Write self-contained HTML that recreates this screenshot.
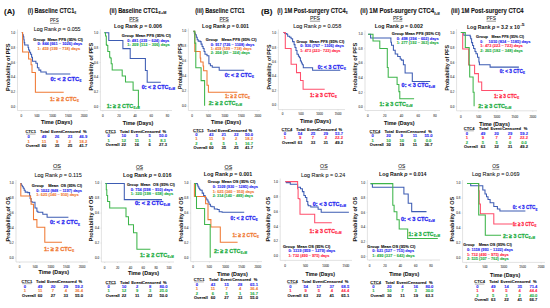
<!DOCTYPE html><html><head><meta charset="utf-8"><style>html,body{margin:0;padding:0;background:#fff;width:550px;height:308px;overflow:hidden}svg{display:block}text{font-family:"Liberation Sans",sans-serif}</style></head><body>
<svg width="550" height="308" viewBox="0 0 550 308">
<rect width="550" height="308" fill="#fff"/>
<text x="4.10" y="13.50" font-size="7.5" fill="#141414" font-weight="bold" stroke="#141414" stroke-width="0.1" textLength="10.90" lengthAdjust="spacingAndGlyphs">(A)</text>
<text x="261.10" y="13.80" font-size="7.5" fill="#141414" font-weight="bold" stroke="#141414" stroke-width="0.1" textLength="11.30" lengthAdjust="spacingAndGlyphs">(B)</text>
<text x="27.70" y="12.90" font-size="6.3" fill="#141414" font-weight="bold" stroke="#141414" stroke-width="0.1" textLength="46.60" lengthAdjust="spacingAndGlyphs">(i) Baseline CTC1</text>
<text x="74.50" y="14.16" font-size="3.15" fill="#141414" font-weight="bold" stroke="#141414" stroke-width="0.05" textLength="1.80" lengthAdjust="spacingAndGlyphs">E</text>
<text x="109.60" y="13.20" font-size="6.3" fill="#141414" font-weight="bold" stroke="#141414" stroke-width="0.1" textLength="48.70" lengthAdjust="spacingAndGlyphs">(ii) Baseline CTC1</text>
<text x="158.50" y="14.46" font-size="3.15" fill="#141414" font-weight="bold" stroke="#141414" stroke-width="0.05" textLength="7.80" lengthAdjust="spacingAndGlyphs">E+M</text>
<text x="195.20" y="13.20" font-size="6.3" fill="#141414" font-weight="bold" stroke="#141414" stroke-width="0.1" textLength="49.40" lengthAdjust="spacingAndGlyphs">(iii) Baseline CTC1</text>
<text x="277.20" y="13.00" font-size="6.3" fill="#141414" font-weight="bold" stroke="#141414" stroke-width="0.1" textLength="68.50" lengthAdjust="spacingAndGlyphs">(i) 1M Post-surgery CTC4</text>
<text x="345.90" y="14.26" font-size="3.15" fill="#141414" font-weight="bold" stroke="#141414" stroke-width="0.05" textLength="1.80" lengthAdjust="spacingAndGlyphs">E</text>
<text x="360.30" y="13.40" font-size="6.3" fill="#141414" font-weight="bold" stroke="#141414" stroke-width="0.1" textLength="73.80" lengthAdjust="spacingAndGlyphs">(ii) 1M Post-surgery CTC4</text>
<text x="434.30" y="14.66" font-size="3.15" fill="#141414" font-weight="bold" stroke="#141414" stroke-width="0.05" textLength="5.40" lengthAdjust="spacingAndGlyphs">E+M</text>
<text x="450.90" y="13.00" font-size="6.3" fill="#141414" font-weight="bold" stroke="#141414" stroke-width="0.1" textLength="72.70" lengthAdjust="spacingAndGlyphs">(iii) 1M Post-surgery CTC4</text>
<text x="50.00" y="22.40" font-size="6.0" fill="#141414" font-weight="normal" stroke="#141414" stroke-width="0.07" textLength="8.80" lengthAdjust="spacingAndGlyphs">PFS</text>
<line x1="50.00" y1="23.30" x2="58.80" y2="23.30" stroke="#141414" stroke-width="0.45"/>
<text x="129.30" y="20.80" font-size="6.0" fill="#141414" font-weight="normal" stroke="#141414" stroke-width="0.07" textLength="9.20" lengthAdjust="spacingAndGlyphs">PFS</text>
<line x1="129.30" y1="21.70" x2="138.50" y2="21.70" stroke="#141414" stroke-width="0.45"/>
<text x="219.50" y="20.80" font-size="6.0" fill="#141414" font-weight="normal" stroke="#141414" stroke-width="0.07" textLength="9.30" lengthAdjust="spacingAndGlyphs">PFS</text>
<line x1="219.50" y1="21.70" x2="228.80" y2="21.70" stroke="#141414" stroke-width="0.45"/>
<text x="309.90" y="20.30" font-size="6.0" fill="#141414" font-weight="normal" stroke="#141414" stroke-width="0.07" textLength="10.20" lengthAdjust="spacingAndGlyphs">PFS</text>
<line x1="309.90" y1="21.20" x2="320.10" y2="21.20" stroke="#141414" stroke-width="0.45"/>
<text x="393.10" y="20.30" font-size="6.0" fill="#141414" font-weight="normal" stroke="#141414" stroke-width="0.07" textLength="9.20" lengthAdjust="spacingAndGlyphs">PFS</text>
<line x1="393.10" y1="21.20" x2="402.30" y2="21.20" stroke="#141414" stroke-width="0.45"/>
<text x="486.50" y="20.30" font-size="6.0" fill="#141414" font-weight="normal" stroke="#141414" stroke-width="0.07" textLength="9.50" lengthAdjust="spacingAndGlyphs">PFS</text>
<line x1="486.50" y1="21.20" x2="496.00" y2="21.20" stroke="#141414" stroke-width="0.45"/>
<text x="33.70" y="31.20" font-size="6.0" fill="#141414" font-weight="normal" stroke="#141414" stroke-width="0.08" textLength="46.90" lengthAdjust="spacingAndGlyphs">Log Rank <tspan font-style="italic">p</tspan> = 0.055</text>
<text x="114.00" y="28.40" font-size="6.0" fill="#141414" font-weight="bold" textLength="48.00" lengthAdjust="spacingAndGlyphs">Log Rank <tspan font-style="italic">p</tspan> = 0.006</text>
<text x="202.10" y="28.40" font-size="6.0" fill="#141414" font-weight="bold" textLength="46.90" lengthAdjust="spacingAndGlyphs">Log Rank <tspan font-style="italic">p</tspan> = 0.001</text>
<text x="293.20" y="28.30" font-size="6.0" fill="#141414" font-weight="normal" stroke="#141414" stroke-width="0.08" textLength="48.00" lengthAdjust="spacingAndGlyphs">Log Rank <tspan font-style="italic">p</tspan> = 0.058</text>
<text x="374.80" y="27.60" font-size="6.0" fill="#141414" font-weight="bold" textLength="48.10" lengthAdjust="spacingAndGlyphs">Log Rank <tspan font-style="italic">p</tspan> = 0.002</text>
<text x="466.90" y="29.00" font-size="6.0" fill="#141414" font-weight="bold" textLength="52.90" lengthAdjust="spacingAndGlyphs">Log Rank <tspan font-style="italic">p</tspan> = 3.2 x 10</text>
<text x="520.20" y="26.20" font-size="3.4" fill="#141414" font-weight="bold" textLength="4.40" lengthAdjust="spacingAndGlyphs">-5</text>
<line x1="17.5" y1="29.5" x2="17.5" y2="110.5" stroke="#cfcfcf" stroke-width="0.6"/>
<line x1="17.5" y1="110.5" x2="88" y2="110.5" stroke="#cfcfcf" stroke-width="0.6"/>
<line x1="16.5" y1="32.80" x2="17.5" y2="32.80" stroke="#cfcfcf" stroke-width="0.5"/>
<text x="15.20" y="33.90" font-size="3.0" fill="#4a4a4a" font-weight="normal" stroke="#4a4a4a" stroke-width="0.08" text-anchor="end">1.0</text>
<line x1="16.5" y1="47.60" x2="17.5" y2="47.60" stroke="#cfcfcf" stroke-width="0.5"/>
<text x="15.20" y="48.70" font-size="3.0" fill="#4a4a4a" font-weight="normal" stroke="#4a4a4a" stroke-width="0.08" text-anchor="end">0.8</text>
<line x1="16.5" y1="62.40" x2="17.5" y2="62.40" stroke="#cfcfcf" stroke-width="0.5"/>
<text x="15.20" y="63.50" font-size="3.0" fill="#4a4a4a" font-weight="normal" stroke="#4a4a4a" stroke-width="0.08" text-anchor="end">0.6</text>
<line x1="16.5" y1="77.20" x2="17.5" y2="77.20" stroke="#cfcfcf" stroke-width="0.5"/>
<text x="15.20" y="78.30" font-size="3.0" fill="#4a4a4a" font-weight="normal" stroke="#4a4a4a" stroke-width="0.08" text-anchor="end">0.4</text>
<line x1="16.5" y1="92.00" x2="17.5" y2="92.00" stroke="#cfcfcf" stroke-width="0.5"/>
<text x="15.20" y="93.10" font-size="3.0" fill="#4a4a4a" font-weight="normal" stroke="#4a4a4a" stroke-width="0.08" text-anchor="end">0.2</text>
<line x1="16.5" y1="106.80" x2="17.5" y2="106.80" stroke="#cfcfcf" stroke-width="0.5"/>
<text x="15.20" y="107.90" font-size="3.0" fill="#4a4a4a" font-weight="normal" stroke="#4a4a4a" stroke-width="0.08" text-anchor="end">0.0</text>
<line x1="21.40" y1="110.5" x2="21.40" y2="111.5" stroke="#cfcfcf" stroke-width="0.5"/>
<text x="21.40" y="116.60" font-size="3.0" fill="#4a4a4a" font-weight="normal" stroke="#4a4a4a" stroke-width="0.08" text-anchor="middle">0</text>
<line x1="37.05" y1="110.5" x2="37.05" y2="111.5" stroke="#cfcfcf" stroke-width="0.5"/>
<text x="37.05" y="116.60" font-size="3.0" fill="#4a4a4a" font-weight="normal" stroke="#4a4a4a" stroke-width="0.08" text-anchor="middle">500</text>
<line x1="52.70" y1="110.5" x2="52.70" y2="111.5" stroke="#cfcfcf" stroke-width="0.5"/>
<text x="52.70" y="116.60" font-size="3.0" fill="#4a4a4a" font-weight="normal" stroke="#4a4a4a" stroke-width="0.08" text-anchor="middle">1000</text>
<line x1="68.35" y1="110.5" x2="68.35" y2="111.5" stroke="#cfcfcf" stroke-width="0.5"/>
<text x="68.35" y="116.60" font-size="3.0" fill="#4a4a4a" font-weight="normal" stroke="#4a4a4a" stroke-width="0.08" text-anchor="middle">1500</text>
<line x1="84.00" y1="110.5" x2="84.00" y2="111.5" stroke="#cfcfcf" stroke-width="0.5"/>
<text x="84.00" y="116.60" font-size="3.0" fill="#4a4a4a" font-weight="normal" stroke="#4a4a4a" stroke-width="0.08" text-anchor="middle">2000</text>
<text x="0" y="0" transform="translate(9.90,67.25) rotate(-90)" font-size="5.6" font-weight="bold" fill="#141414" text-anchor="middle" textLength="47.50" lengthAdjust="spacingAndGlyphs">Probability of PFS</text>
<line x1="100.4" y1="29.5" x2="100.4" y2="110.5" stroke="#cfcfcf" stroke-width="0.6"/>
<line x1="100.4" y1="110.5" x2="172" y2="110.5" stroke="#cfcfcf" stroke-width="0.6"/>
<line x1="99.4" y1="33.20" x2="100.4" y2="33.20" stroke="#cfcfcf" stroke-width="0.5"/>
<text x="98.10" y="34.30" font-size="3.0" fill="#4a4a4a" font-weight="normal" stroke="#4a4a4a" stroke-width="0.08" text-anchor="end">1.0</text>
<line x1="99.4" y1="47.86" x2="100.4" y2="47.86" stroke="#cfcfcf" stroke-width="0.5"/>
<text x="98.10" y="48.96" font-size="3.0" fill="#4a4a4a" font-weight="normal" stroke="#4a4a4a" stroke-width="0.08" text-anchor="end">0.8</text>
<line x1="99.4" y1="62.52" x2="100.4" y2="62.52" stroke="#cfcfcf" stroke-width="0.5"/>
<text x="98.10" y="63.62" font-size="3.0" fill="#4a4a4a" font-weight="normal" stroke="#4a4a4a" stroke-width="0.08" text-anchor="end">0.6</text>
<line x1="99.4" y1="77.18" x2="100.4" y2="77.18" stroke="#cfcfcf" stroke-width="0.5"/>
<text x="98.10" y="78.28" font-size="3.0" fill="#4a4a4a" font-weight="normal" stroke="#4a4a4a" stroke-width="0.08" text-anchor="end">0.4</text>
<line x1="99.4" y1="91.84" x2="100.4" y2="91.84" stroke="#cfcfcf" stroke-width="0.5"/>
<text x="98.10" y="92.94" font-size="3.0" fill="#4a4a4a" font-weight="normal" stroke="#4a4a4a" stroke-width="0.08" text-anchor="end">0.2</text>
<line x1="99.4" y1="106.50" x2="100.4" y2="106.50" stroke="#cfcfcf" stroke-width="0.5"/>
<text x="98.10" y="107.60" font-size="3.0" fill="#4a4a4a" font-weight="normal" stroke="#4a4a4a" stroke-width="0.08" text-anchor="end">0.0</text>
<line x1="102.80" y1="110.5" x2="102.80" y2="111.5" stroke="#cfcfcf" stroke-width="0.5"/>
<text x="102.80" y="116.60" font-size="3.0" fill="#4a4a4a" font-weight="normal" stroke="#4a4a4a" stroke-width="0.08" text-anchor="middle">0</text>
<line x1="118.95" y1="110.5" x2="118.95" y2="111.5" stroke="#cfcfcf" stroke-width="0.5"/>
<text x="118.95" y="116.60" font-size="3.0" fill="#4a4a4a" font-weight="normal" stroke="#4a4a4a" stroke-width="0.08" text-anchor="middle">20</text>
<line x1="135.10" y1="110.5" x2="135.10" y2="111.5" stroke="#cfcfcf" stroke-width="0.5"/>
<text x="135.10" y="116.60" font-size="3.0" fill="#4a4a4a" font-weight="normal" stroke="#4a4a4a" stroke-width="0.08" text-anchor="middle">40</text>
<line x1="151.25" y1="110.5" x2="151.25" y2="111.5" stroke="#cfcfcf" stroke-width="0.5"/>
<text x="151.25" y="116.60" font-size="3.0" fill="#4a4a4a" font-weight="normal" stroke="#4a4a4a" stroke-width="0.08" text-anchor="middle">60</text>
<line x1="167.40" y1="110.5" x2="167.40" y2="111.5" stroke="#cfcfcf" stroke-width="0.5"/>
<text x="167.40" y="116.60" font-size="3.0" fill="#4a4a4a" font-weight="normal" stroke="#4a4a4a" stroke-width="0.08" text-anchor="middle">80</text>
<text x="0" y="0" transform="translate(92.80,66.70) rotate(-90)" font-size="5.6" font-weight="bold" fill="#141414" text-anchor="middle" textLength="47.80" lengthAdjust="spacingAndGlyphs">Probability of PFS</text>
<line x1="188.4" y1="28.5" x2="188.4" y2="110.5" stroke="#cfcfcf" stroke-width="0.6"/>
<line x1="188.4" y1="110.5" x2="260" y2="110.5" stroke="#cfcfcf" stroke-width="0.6"/>
<line x1="187.4" y1="30.80" x2="188.4" y2="30.80" stroke="#cfcfcf" stroke-width="0.5"/>
<text x="186.10" y="31.90" font-size="3.0" fill="#4a4a4a" font-weight="normal" stroke="#4a4a4a" stroke-width="0.08" text-anchor="end">1.0</text>
<line x1="187.4" y1="45.88" x2="188.4" y2="45.88" stroke="#cfcfcf" stroke-width="0.5"/>
<text x="186.10" y="46.98" font-size="3.0" fill="#4a4a4a" font-weight="normal" stroke="#4a4a4a" stroke-width="0.08" text-anchor="end">0.8</text>
<line x1="187.4" y1="60.96" x2="188.4" y2="60.96" stroke="#cfcfcf" stroke-width="0.5"/>
<text x="186.10" y="62.06" font-size="3.0" fill="#4a4a4a" font-weight="normal" stroke="#4a4a4a" stroke-width="0.08" text-anchor="end">0.6</text>
<line x1="187.4" y1="76.04" x2="188.4" y2="76.04" stroke="#cfcfcf" stroke-width="0.5"/>
<text x="186.10" y="77.14" font-size="3.0" fill="#4a4a4a" font-weight="normal" stroke="#4a4a4a" stroke-width="0.08" text-anchor="end">0.4</text>
<line x1="187.4" y1="91.12" x2="188.4" y2="91.12" stroke="#cfcfcf" stroke-width="0.5"/>
<text x="186.10" y="92.22" font-size="3.0" fill="#4a4a4a" font-weight="normal" stroke="#4a4a4a" stroke-width="0.08" text-anchor="end">0.2</text>
<line x1="187.4" y1="106.20" x2="188.4" y2="106.20" stroke="#cfcfcf" stroke-width="0.5"/>
<text x="186.10" y="107.30" font-size="3.0" fill="#4a4a4a" font-weight="normal" stroke="#4a4a4a" stroke-width="0.08" text-anchor="end">0.0</text>
<line x1="192.00" y1="110.5" x2="192.00" y2="111.5" stroke="#cfcfcf" stroke-width="0.5"/>
<text x="192.00" y="116.60" font-size="3.0" fill="#4a4a4a" font-weight="normal" stroke="#4a4a4a" stroke-width="0.08" text-anchor="middle">0</text>
<line x1="208.45" y1="110.5" x2="208.45" y2="111.5" stroke="#cfcfcf" stroke-width="0.5"/>
<text x="208.45" y="116.60" font-size="3.0" fill="#4a4a4a" font-weight="normal" stroke="#4a4a4a" stroke-width="0.08" text-anchor="middle">500</text>
<line x1="224.90" y1="110.5" x2="224.90" y2="111.5" stroke="#cfcfcf" stroke-width="0.5"/>
<text x="224.90" y="116.60" font-size="3.0" fill="#4a4a4a" font-weight="normal" stroke="#4a4a4a" stroke-width="0.08" text-anchor="middle">1000</text>
<line x1="241.35" y1="110.5" x2="241.35" y2="111.5" stroke="#cfcfcf" stroke-width="0.5"/>
<text x="241.35" y="116.60" font-size="3.0" fill="#4a4a4a" font-weight="normal" stroke="#4a4a4a" stroke-width="0.08" text-anchor="middle">1500</text>
<line x1="257.80" y1="110.5" x2="257.80" y2="111.5" stroke="#cfcfcf" stroke-width="0.5"/>
<text x="257.80" y="116.60" font-size="3.0" fill="#4a4a4a" font-weight="normal" stroke="#4a4a4a" stroke-width="0.08" text-anchor="middle">2000</text>
<text x="0" y="0" transform="translate(181.90,66.15) rotate(-90)" font-size="5.6" font-weight="bold" fill="#141414" text-anchor="middle" textLength="45.50" lengthAdjust="spacingAndGlyphs">Probability of PFS</text>
<line x1="278.4" y1="29.5" x2="278.4" y2="109.6" stroke="#cfcfcf" stroke-width="0.6"/>
<line x1="278.4" y1="109.6" x2="345" y2="109.6" stroke="#cfcfcf" stroke-width="0.6"/>
<line x1="277.4" y1="33.20" x2="278.4" y2="33.20" stroke="#cfcfcf" stroke-width="0.5"/>
<text x="276.10" y="34.30" font-size="3.0" fill="#4a4a4a" font-weight="normal" stroke="#4a4a4a" stroke-width="0.08" text-anchor="end">1.0</text>
<line x1="277.4" y1="47.58" x2="278.4" y2="47.58" stroke="#cfcfcf" stroke-width="0.5"/>
<text x="276.10" y="48.68" font-size="3.0" fill="#4a4a4a" font-weight="normal" stroke="#4a4a4a" stroke-width="0.08" text-anchor="end">0.8</text>
<line x1="277.4" y1="61.96" x2="278.4" y2="61.96" stroke="#cfcfcf" stroke-width="0.5"/>
<text x="276.10" y="63.06" font-size="3.0" fill="#4a4a4a" font-weight="normal" stroke="#4a4a4a" stroke-width="0.08" text-anchor="end">0.6</text>
<line x1="277.4" y1="76.34" x2="278.4" y2="76.34" stroke="#cfcfcf" stroke-width="0.5"/>
<text x="276.10" y="77.44" font-size="3.0" fill="#4a4a4a" font-weight="normal" stroke="#4a4a4a" stroke-width="0.08" text-anchor="end">0.4</text>
<line x1="277.4" y1="90.72" x2="278.4" y2="90.72" stroke="#cfcfcf" stroke-width="0.5"/>
<text x="276.10" y="91.82" font-size="3.0" fill="#4a4a4a" font-weight="normal" stroke="#4a4a4a" stroke-width="0.08" text-anchor="end">0.2</text>
<line x1="277.4" y1="105.10" x2="278.4" y2="105.10" stroke="#cfcfcf" stroke-width="0.5"/>
<text x="276.10" y="106.20" font-size="3.0" fill="#4a4a4a" font-weight="normal" stroke="#4a4a4a" stroke-width="0.08" text-anchor="end">0.0</text>
<line x1="282.60" y1="109.6" x2="282.60" y2="110.6" stroke="#cfcfcf" stroke-width="0.5"/>
<text x="282.60" y="115.40" font-size="3.0" fill="#4a4a4a" font-weight="normal" stroke="#4a4a4a" stroke-width="0.08" text-anchor="middle">0</text>
<line x1="301.07" y1="109.6" x2="301.07" y2="110.6" stroke="#cfcfcf" stroke-width="0.5"/>
<text x="301.07" y="115.40" font-size="3.0" fill="#4a4a4a" font-weight="normal" stroke="#4a4a4a" stroke-width="0.08" text-anchor="middle">500</text>
<line x1="319.53" y1="109.6" x2="319.53" y2="110.6" stroke="#cfcfcf" stroke-width="0.5"/>
<text x="319.53" y="115.40" font-size="3.0" fill="#4a4a4a" font-weight="normal" stroke="#4a4a4a" stroke-width="0.08" text-anchor="middle">1000</text>
<line x1="338.00" y1="109.6" x2="338.00" y2="110.6" stroke="#cfcfcf" stroke-width="0.5"/>
<text x="338.00" y="115.40" font-size="3.0" fill="#4a4a4a" font-weight="normal" stroke="#4a4a4a" stroke-width="0.08" text-anchor="middle">1500</text>
<text x="0" y="0" transform="translate(271.00,67.00) rotate(-90)" font-size="5.6" font-weight="bold" fill="#141414" text-anchor="middle" textLength="45.00" lengthAdjust="spacingAndGlyphs">Probability of PFS</text>
<line x1="365" y1="30.5" x2="365" y2="110.5" stroke="#cfcfcf" stroke-width="0.6"/>
<line x1="365" y1="110.5" x2="440" y2="110.5" stroke="#cfcfcf" stroke-width="0.6"/>
<line x1="364" y1="34.20" x2="365" y2="34.20" stroke="#cfcfcf" stroke-width="0.5"/>
<text x="362.70" y="35.30" font-size="3.0" fill="#4a4a4a" font-weight="normal" stroke="#4a4a4a" stroke-width="0.08" text-anchor="end">1.0</text>
<line x1="364" y1="48.76" x2="365" y2="48.76" stroke="#cfcfcf" stroke-width="0.5"/>
<text x="362.70" y="49.86" font-size="3.0" fill="#4a4a4a" font-weight="normal" stroke="#4a4a4a" stroke-width="0.08" text-anchor="end">0.8</text>
<line x1="364" y1="63.32" x2="365" y2="63.32" stroke="#cfcfcf" stroke-width="0.5"/>
<text x="362.70" y="64.42" font-size="3.0" fill="#4a4a4a" font-weight="normal" stroke="#4a4a4a" stroke-width="0.08" text-anchor="end">0.6</text>
<line x1="364" y1="77.88" x2="365" y2="77.88" stroke="#cfcfcf" stroke-width="0.5"/>
<text x="362.70" y="78.98" font-size="3.0" fill="#4a4a4a" font-weight="normal" stroke="#4a4a4a" stroke-width="0.08" text-anchor="end">0.4</text>
<line x1="364" y1="92.44" x2="365" y2="92.44" stroke="#cfcfcf" stroke-width="0.5"/>
<text x="362.70" y="93.54" font-size="3.0" fill="#4a4a4a" font-weight="normal" stroke="#4a4a4a" stroke-width="0.08" text-anchor="end">0.2</text>
<line x1="364" y1="107.00" x2="365" y2="107.00" stroke="#cfcfcf" stroke-width="0.5"/>
<text x="362.70" y="108.10" font-size="3.0" fill="#4a4a4a" font-weight="normal" stroke="#4a4a4a" stroke-width="0.08" text-anchor="end">0.0</text>
<line x1="367.90" y1="110.5" x2="367.90" y2="111.5" stroke="#cfcfcf" stroke-width="0.5"/>
<text x="367.90" y="117.20" font-size="3.0" fill="#4a4a4a" font-weight="normal" stroke="#4a4a4a" stroke-width="0.08" text-anchor="middle">0</text>
<line x1="384.67" y1="110.5" x2="384.67" y2="111.5" stroke="#cfcfcf" stroke-width="0.5"/>
<text x="384.67" y="117.20" font-size="3.0" fill="#4a4a4a" font-weight="normal" stroke="#4a4a4a" stroke-width="0.08" text-anchor="middle">20</text>
<line x1="401.45" y1="110.5" x2="401.45" y2="111.5" stroke="#cfcfcf" stroke-width="0.5"/>
<text x="401.45" y="117.20" font-size="3.0" fill="#4a4a4a" font-weight="normal" stroke="#4a4a4a" stroke-width="0.08" text-anchor="middle">40</text>
<line x1="418.23" y1="110.5" x2="418.23" y2="111.5" stroke="#cfcfcf" stroke-width="0.5"/>
<text x="418.23" y="117.20" font-size="3.0" fill="#4a4a4a" font-weight="normal" stroke="#4a4a4a" stroke-width="0.08" text-anchor="middle">60</text>
<line x1="435.00" y1="110.5" x2="435.00" y2="111.5" stroke="#cfcfcf" stroke-width="0.5"/>
<text x="435.00" y="117.20" font-size="3.0" fill="#4a4a4a" font-weight="normal" stroke="#4a4a4a" stroke-width="0.08" text-anchor="middle">80</text>
<text x="0" y="0" transform="translate(356.70,67.15) rotate(-90)" font-size="5.6" font-weight="bold" fill="#141414" text-anchor="middle" textLength="48.70" lengthAdjust="spacingAndGlyphs">Probability of PFS</text>
<line x1="456.6" y1="29.0" x2="456.6" y2="110.8" stroke="#cfcfcf" stroke-width="0.6"/>
<line x1="456.6" y1="110.8" x2="537" y2="110.8" stroke="#cfcfcf" stroke-width="0.6"/>
<line x1="455.6" y1="32.90" x2="456.6" y2="32.90" stroke="#cfcfcf" stroke-width="0.5"/>
<text x="454.30" y="34.00" font-size="3.0" fill="#4a4a4a" font-weight="normal" stroke="#4a4a4a" stroke-width="0.08" text-anchor="end">1.0</text>
<line x1="455.6" y1="47.66" x2="456.6" y2="47.66" stroke="#cfcfcf" stroke-width="0.5"/>
<text x="454.30" y="48.76" font-size="3.0" fill="#4a4a4a" font-weight="normal" stroke="#4a4a4a" stroke-width="0.08" text-anchor="end">0.8</text>
<line x1="455.6" y1="62.42" x2="456.6" y2="62.42" stroke="#cfcfcf" stroke-width="0.5"/>
<text x="454.30" y="63.52" font-size="3.0" fill="#4a4a4a" font-weight="normal" stroke="#4a4a4a" stroke-width="0.08" text-anchor="end">0.6</text>
<line x1="455.6" y1="77.18" x2="456.6" y2="77.18" stroke="#cfcfcf" stroke-width="0.5"/>
<text x="454.30" y="78.28" font-size="3.0" fill="#4a4a4a" font-weight="normal" stroke="#4a4a4a" stroke-width="0.08" text-anchor="end">0.4</text>
<line x1="455.6" y1="91.94" x2="456.6" y2="91.94" stroke="#cfcfcf" stroke-width="0.5"/>
<text x="454.30" y="93.04" font-size="3.0" fill="#4a4a4a" font-weight="normal" stroke="#4a4a4a" stroke-width="0.08" text-anchor="end">0.2</text>
<line x1="455.6" y1="106.70" x2="456.6" y2="106.70" stroke="#cfcfcf" stroke-width="0.5"/>
<text x="454.30" y="107.80" font-size="3.0" fill="#4a4a4a" font-weight="normal" stroke="#4a4a4a" stroke-width="0.08" text-anchor="end">0.0</text>
<line x1="460.80" y1="110.8" x2="460.80" y2="111.8" stroke="#cfcfcf" stroke-width="0.5"/>
<text x="460.80" y="117.60" font-size="3.0" fill="#4a4a4a" font-weight="normal" stroke="#4a4a4a" stroke-width="0.08" text-anchor="middle">0</text>
<line x1="478.80" y1="110.8" x2="478.80" y2="111.8" stroke="#cfcfcf" stroke-width="0.5"/>
<text x="478.80" y="117.60" font-size="3.0" fill="#4a4a4a" font-weight="normal" stroke="#4a4a4a" stroke-width="0.08" text-anchor="middle">500</text>
<line x1="496.80" y1="110.8" x2="496.80" y2="111.8" stroke="#cfcfcf" stroke-width="0.5"/>
<text x="496.80" y="117.60" font-size="3.0" fill="#4a4a4a" font-weight="normal" stroke="#4a4a4a" stroke-width="0.08" text-anchor="middle">1000</text>
<line x1="514.80" y1="110.8" x2="514.80" y2="111.8" stroke="#cfcfcf" stroke-width="0.5"/>
<text x="514.80" y="117.60" font-size="3.0" fill="#4a4a4a" font-weight="normal" stroke="#4a4a4a" stroke-width="0.08" text-anchor="middle">1500</text>
<line x1="532.80" y1="110.8" x2="532.80" y2="111.8" stroke="#cfcfcf" stroke-width="0.5"/>
<text x="532.80" y="117.60" font-size="3.0" fill="#4a4a4a" font-weight="normal" stroke="#4a4a4a" stroke-width="0.08" text-anchor="middle">2000</text>
<text x="0" y="0" transform="translate(449.10,67.75) rotate(-90)" font-size="5.6" font-weight="bold" fill="#141414" text-anchor="middle" textLength="45.50" lengthAdjust="spacingAndGlyphs">Probability of PFS</text>
<path d="M21.8 32.4 H22.5 V34.8 H23.3 V36.8 H23.8 V39.7 H24.2 V42.6 H24.7 V45 H28.1 V47.5 H28.6 V49.9 H29.6 V52.3 H30.6 V54.3 H31.6 V57.2 H32.5 V61.3 H35.9 V63.3 H37.4 V67.7 H38.9 V70.1 H40.8 V72 H46.2 V74 H70.3" fill="none" stroke="#3d5cb3" stroke-width="1.05" stroke-linejoin="miter" stroke-linecap="butt"/>
<path d="M21.8 32.4 H22.6 V51.9 H28.6 V58.9 H31.1 V64.7 H32 V72.5 H35.4 V92.3 H63.7" fill="none" stroke="#f07a35" stroke-width="1.05" stroke-linejoin="miter" stroke-linecap="butt"/>
<path d="M104.4 32.7 H108.8 V40.5 H122.9 V48.6 H130.2 V58.4 H145.4 V70.4 H147.2 V82.3 H160.8" fill="none" stroke="#3d5cb3" stroke-width="1.05" stroke-linejoin="miter" stroke-linecap="butt"/>
<path d="M104.4 32.7 H105.5 V36 H106.3 V44.6 H106.8 V45.5 H107.8 V51.4 H109.7 V57.2 H110.2 V58 H111.2 V63.8 H112.2 V69.9 H122.2 V76 H125.5 V81.9 H133.1 V90.2 H138.4 V106.7 H139" fill="none" stroke="#3db54a" stroke-width="1.05" stroke-linejoin="miter" stroke-linecap="butt"/>
<path d="M193.4 31.2 H194.3 V32.9 H195.3 V34.8 H196.3 V37.2 H197.2 V39.7 H198.2 V41.1 H200.2 V41.6 H201.1 V44.1 H202.1 V46.5 H203.1 V48.4 H204.1 V51.4 H205 V54.3 H207 V55.8 H208.9 V63.8 H210.4 V65.8 H212.3 V67.2 H219.2 V70.2 H244.2" fill="none" stroke="#3d5cb3" stroke-width="1.05" stroke-linejoin="miter" stroke-linecap="butt"/>
<path d="M193.4 31.2 H194.8 V51.4 H200.2 V58 H200.7 V62 H203.1 V66 H203.6 V70.7 H207 V85.3 H208.4 V92.2 H237.4" fill="none" stroke="#f07a35" stroke-width="1.05" stroke-linejoin="miter" stroke-linecap="butt"/>
<path d="M193.4 31.2 H194.8 V43.1 H195.8 V67.7 H201.1 V80.6 H204.6 V105.8" fill="none" stroke="#3db54a" stroke-width="1.05" stroke-linejoin="miter" stroke-linecap="butt"/>
<path d="M283.4 32.4 H284.8 V33.4 H286.8 V34.3 H287.7 V36.3 H289.7 V37.3 H291.1 V38.7 H292.6 V41.6 H294.1 V44.6 H295 V47.5 H296 V50.4 H297 V54.3 H298.4 V56.2 H299.4 V57.7 H300.4 V60.9 H301.4 V63 H302.3 V64.8 H303.3 V67.7 H312.6 V70.2 H340.3" fill="none" stroke="#3d5cb3" stroke-width="1.05" stroke-linejoin="miter" stroke-linecap="butt"/>
<path d="M283.4 32.4 H285.3 V48.4 H291.1 V64.3 H296.5 V72.6 H300.5 V80.5 H303.1 V89.2 H324.7" fill="none" stroke="#ff4f6c" stroke-width="1.05" stroke-linejoin="miter" stroke-linecap="butt"/>
<path d="M368.1 34.2 H370.6 V37.9 H390.9 V42.2 H391.5 V45.3 H393.4 V50.2 H395.2 V53.9 H397.7 V56.4 H400.2 V58.9 H401.4 V60.1 H403.4 V64.8 H405.1 V72.9 H412.3 V81.4 H430.2" fill="none" stroke="#3d5cb3" stroke-width="1.05" stroke-linejoin="miter" stroke-linecap="butt"/>
<path d="M368.1 34.2 H373 V41 H379.8 V48.4 H387.3 V67.5 H388.2 V77.3 H397.1 V84.5 H398.9 V91.6 H399.8 V98.8 H414.1" fill="none" stroke="#3db54a" stroke-width="1.05" stroke-linejoin="miter" stroke-linecap="butt"/>
<path d="M460.9 32.4 H463.8 V35.3 H470.2 V36.8 H470.7 V38.7 H471.6 V42.6 H472.6 V45.5 H473.6 V48.4 H475 V51.4 H476 V53.8 H477.5 V57.2 H478.9 V61.9 H479.4 V64.8 H490.1 V67.1 H518.9" fill="none" stroke="#3d5cb3" stroke-width="1.05" stroke-linejoin="miter" stroke-linecap="butt"/>
<path d="M460.9 32.4 H462.7 V48.9 H468.7 V64.8 H469.2 V65.3 H474.6 V73.6 H478.4 V82 H481.7 V90.4 H502.8" fill="none" stroke="#ff4f6c" stroke-width="1.05" stroke-linejoin="miter" stroke-linecap="butt"/>
<path d="M460.9 32.4 H465.3 V47.5 H469.2 V65 H469.7 V77 H473.1 V92.2 H474.1 V106.3" fill="none" stroke="#3db54a" stroke-width="1.05" stroke-linejoin="miter" stroke-linecap="butt"/>
<text x="33.30" y="40.80" font-size="4.2" fill="#141414" font-weight="bold" stroke="#141414" stroke-width="0.1" textLength="12.00" lengthAdjust="spacingAndGlyphs">Group</text>
<text x="47.40" y="40.80" font-size="4.2" fill="#141414" font-weight="bold" stroke="#141414" stroke-width="0.1" textLength="35.50" lengthAdjust="spacingAndGlyphs">Mean PFS (95% CI)</text>
<text x="37.60" y="45.00" font-size="4.2" fill="#2a2af0" font-weight="bold" stroke="#2a2af0" stroke-width="0.1" textLength="44.70" lengthAdjust="spacingAndGlyphs">0: 844 (661 – 1026) days</text>
<text x="37.60" y="49.80" font-size="4.2" fill="#f07a35" font-weight="bold" stroke="#f07a35" stroke-width="0.1" textLength="42.60" lengthAdjust="spacingAndGlyphs">1: 459 (199 – 718) days</text>
<text x="121.80" y="36.80" font-size="4.2" fill="#141414" font-weight="bold" stroke="#141414" stroke-width="0.1" textLength="12.00" lengthAdjust="spacingAndGlyphs">Group</text>
<text x="135.40" y="36.80" font-size="4.2" fill="#141414" font-weight="bold" stroke="#141414" stroke-width="0.1" textLength="35.50" lengthAdjust="spacingAndGlyphs">Mean PFS (95% CI)</text>
<text x="127.30" y="41.50" font-size="4.2" fill="#2a2af0" font-weight="bold" stroke="#2a2af0" stroke-width="0.1" textLength="42.00" lengthAdjust="spacingAndGlyphs">0: 481 (339 – 624) days</text>
<text x="127.30" y="46.00" font-size="4.2" fill="#1fae45" font-weight="bold" stroke="#1fae45" stroke-width="0.1" textLength="42.50" lengthAdjust="spacingAndGlyphs">1: 209 (112 – 306) days</text>
<text x="205.80" y="41.00" font-size="4.2" fill="#141414" font-weight="bold" stroke="#141414" stroke-width="0.1" textLength="12.00" lengthAdjust="spacingAndGlyphs">Group</text>
<text x="221.60" y="41.00" font-size="4.2" fill="#141414" font-weight="bold" stroke="#141414" stroke-width="0.1" textLength="34.90" lengthAdjust="spacingAndGlyphs">Mean PFS (95% CI)</text>
<text x="210.70" y="45.60" font-size="4.2" fill="#2a2af0" font-weight="bold" stroke="#2a2af0" stroke-width="0.1" textLength="43.60" lengthAdjust="spacingAndGlyphs">0: 917 (726 – 1108) days</text>
<text x="210.70" y="50.00" font-size="4.2" fill="#f07a35" font-weight="bold" stroke="#f07a35" stroke-width="0.1" textLength="40.90" lengthAdjust="spacingAndGlyphs">1: 459 (199 – 718) days</text>
<text x="210.70" y="54.30" font-size="4.2" fill="#1fae45" font-weight="bold" stroke="#1fae45" stroke-width="0.1" textLength="39.30" lengthAdjust="spacingAndGlyphs">2: 204 (83 – 324) days</text>
<text x="296.40" y="42.50" font-size="4.2" fill="#141414" font-weight="bold" stroke="#141414" stroke-width="0.1" textLength="10.90" lengthAdjust="spacingAndGlyphs">Group</text>
<text x="309.40" y="42.50" font-size="4.2" fill="#141414" font-weight="bold" stroke="#141414" stroke-width="0.1" textLength="34.90" lengthAdjust="spacingAndGlyphs">Mean PFS (95% CI)</text>
<text x="300.20" y="47.00" font-size="4.2" fill="#2a2af0" font-weight="bold" stroke="#2a2af0" stroke-width="0.1" textLength="43.60" lengthAdjust="spacingAndGlyphs">0: 936 (767 – 1106) days</text>
<text x="300.20" y="51.50" font-size="4.2" fill="#ff2a48" font-weight="bold" stroke="#ff2a48" stroke-width="0.1" textLength="40.30" lengthAdjust="spacingAndGlyphs">1: 473 (223– 723) days</text>
<text x="391.80" y="35.00" font-size="4.2" fill="#141414" font-weight="bold" stroke="#141414" stroke-width="0.1" textLength="12.00" lengthAdjust="spacingAndGlyphs">Group</text>
<text x="404.90" y="35.00" font-size="4.2" fill="#141414" font-weight="bold" stroke="#141414" stroke-width="0.1" textLength="35.40" lengthAdjust="spacingAndGlyphs">Mean PFS (95% CI)</text>
<text x="396.70" y="39.60" font-size="4.2" fill="#2a2af0" font-weight="bold" stroke="#2a2af0" stroke-width="0.1" textLength="42.00" lengthAdjust="spacingAndGlyphs">0: 498 (394 – 602) days</text>
<text x="396.70" y="44.00" font-size="4.2" fill="#1fae45" font-weight="bold" stroke="#1fae45" stroke-width="0.1" textLength="42.00" lengthAdjust="spacingAndGlyphs">1: 277 (192 – 363) days</text>
<text x="476.10" y="37.90" font-size="4.2" fill="#141414" font-weight="bold" stroke="#141414" stroke-width="0.1" textLength="11.90" lengthAdjust="spacingAndGlyphs">Group</text>
<text x="491.50" y="37.90" font-size="4.2" fill="#141414" font-weight="bold" stroke="#141414" stroke-width="0.1" textLength="32.50" lengthAdjust="spacingAndGlyphs">Mean PFS (95% CI)</text>
<text x="480.30" y="42.50" font-size="4.2" fill="#2a2af0" font-weight="bold" stroke="#2a2af0" stroke-width="0.1" textLength="2.90" lengthAdjust="spacingAndGlyphs">0:</text>
<text x="488.50" y="42.50" font-size="4.2" fill="#2a2af0" font-weight="bold" stroke="#2a2af0" stroke-width="0.1" textLength="42.00" lengthAdjust="spacingAndGlyphs">1010 (834 – 1185) days</text>
<text x="480.30" y="47.20" font-size="4.2" fill="#ff2a48" font-weight="bold" stroke="#ff2a48" stroke-width="0.1" textLength="42.50" lengthAdjust="spacingAndGlyphs">1: 473 (223 – 723) days</text>
<text x="480.30" y="52.00" font-size="4.2" fill="#1fae45" font-weight="bold" stroke="#1fae45" stroke-width="0.1" textLength="42.50" lengthAdjust="spacingAndGlyphs">2: 265 (182 – 348) days</text>
<text x="50.50" y="80.60" font-size="6.0" fill="#2a2af0" font-weight="bold" stroke="#2a2af0" stroke-width="0.3" textLength="28.80" lengthAdjust="spacingAndGlyphs">0: &lt; 2 CTC</text>
<text x="79.50" y="81.80" font-size="3.0" fill="#2a2af0" font-weight="bold" stroke="#2a2af0" stroke-width="0.15" textLength="2.00" lengthAdjust="spacingAndGlyphs">E</text>
<text x="50.00" y="100.50" font-size="6.0" fill="#f07a35" font-weight="bold" stroke="#f07a35" stroke-width="0.3" textLength="26.80" lengthAdjust="spacingAndGlyphs">1: ≥ 2 CTC</text>
<text x="77.00" y="101.70" font-size="3.0" fill="#f07a35" font-weight="bold" stroke="#f07a35" stroke-width="0.15" textLength="2.00" lengthAdjust="spacingAndGlyphs">E</text>
<text x="141.70" y="88.80" font-size="6.0" fill="#2a2af0" font-weight="bold" stroke="#2a2af0" stroke-width="0.3" textLength="26.80" lengthAdjust="spacingAndGlyphs">0: &lt; 2 CTC</text>
<text x="168.70" y="90.00" font-size="3.0" fill="#2a2af0" font-weight="bold" stroke="#2a2af0" stroke-width="0.15" textLength="6.30" lengthAdjust="spacingAndGlyphs">E+M</text>
<text x="106.70" y="108.00" font-size="6.0" fill="#1fae45" font-weight="bold" stroke="#1fae45" stroke-width="0.3" textLength="26.50" lengthAdjust="spacingAndGlyphs">1: ≥ 2 CTC</text>
<text x="133.40" y="109.20" font-size="3.0" fill="#1fae45" font-weight="bold" stroke="#1fae45" stroke-width="0.15" textLength="6.30" lengthAdjust="spacingAndGlyphs">E+M</text>
<text x="224.70" y="77.00" font-size="6.0" fill="#2a2af0" font-weight="bold" stroke="#2a2af0" stroke-width="0.3" textLength="27.10" lengthAdjust="spacingAndGlyphs">0: &lt; 2 CTC</text>
<text x="252.00" y="78.20" font-size="3.0" fill="#2a2af0" font-weight="bold" stroke="#2a2af0" stroke-width="0.15" textLength="2.00" lengthAdjust="spacingAndGlyphs">E</text>
<text x="225.00" y="98.20" font-size="6.0" fill="#f07a35" font-weight="bold" stroke="#f07a35" stroke-width="0.3" textLength="22.80" lengthAdjust="spacingAndGlyphs">1: ≥ 2 CTC</text>
<text x="248.00" y="99.40" font-size="3.0" fill="#f07a35" font-weight="bold" stroke="#f07a35" stroke-width="0.15" textLength="2.00" lengthAdjust="spacingAndGlyphs">E</text>
<text x="208.80" y="104.80" font-size="6.0" fill="#1fae45" font-weight="bold" stroke="#1fae45" stroke-width="0.3" textLength="26.70" lengthAdjust="spacingAndGlyphs">2: ≥ 2 CTC</text>
<text x="235.70" y="106.00" font-size="3.0" fill="#1fae45" font-weight="bold" stroke="#1fae45" stroke-width="0.15" textLength="6.30" lengthAdjust="spacingAndGlyphs">E+M</text>
<text x="317.70" y="68.80" font-size="6.0" fill="#2a2af0" font-weight="bold" stroke="#2a2af0" stroke-width="0.3" textLength="26.00" lengthAdjust="spacingAndGlyphs">0: &lt; 3 CTC</text>
<text x="343.90" y="70.00" font-size="3.0" fill="#2a2af0" font-weight="bold" stroke="#2a2af0" stroke-width="0.15" textLength="2.00" lengthAdjust="spacingAndGlyphs">E</text>
<text x="309.90" y="97.00" font-size="6.0" fill="#ff2a48" font-weight="bold" stroke="#ff2a48" stroke-width="0.3" textLength="24.90" lengthAdjust="spacingAndGlyphs">1: ≥ 3 CTC</text>
<text x="335.00" y="98.20" font-size="3.0" fill="#ff2a48" font-weight="bold" stroke="#ff2a48" stroke-width="0.15" textLength="2.00" lengthAdjust="spacingAndGlyphs">E</text>
<text x="401.60" y="86.50" font-size="6.0" fill="#2a2af0" font-weight="bold" stroke="#2a2af0" stroke-width="0.3" textLength="26.90" lengthAdjust="spacingAndGlyphs">0: &lt; 3 CTC</text>
<text x="428.70" y="87.70" font-size="3.0" fill="#2a2af0" font-weight="bold" stroke="#2a2af0" stroke-width="0.15" textLength="6.30" lengthAdjust="spacingAndGlyphs">E+M</text>
<text x="379.50" y="106.20" font-size="6.0" fill="#1fae45" font-weight="bold" stroke="#1fae45" stroke-width="0.3" textLength="26.50" lengthAdjust="spacingAndGlyphs">1: ≥ 3 CTC</text>
<text x="406.20" y="107.40" font-size="3.0" fill="#1fae45" font-weight="bold" stroke="#1fae45" stroke-width="0.15" textLength="6.30" lengthAdjust="spacingAndGlyphs">E+M</text>
<text x="499.70" y="73.20" font-size="6.0" fill="#2a2af0" font-weight="bold" stroke="#2a2af0" stroke-width="0.3" textLength="23.10" lengthAdjust="spacingAndGlyphs">0: &lt; 3 CTC</text>
<text x="523.00" y="74.40" font-size="3.0" fill="#2a2af0" font-weight="bold" stroke="#2a2af0" stroke-width="0.15" textLength="2.00" lengthAdjust="spacingAndGlyphs">E</text>
<text x="493.90" y="98.20" font-size="6.0" fill="#ff2a48" font-weight="bold" stroke="#ff2a48" stroke-width="0.3" textLength="23.10" lengthAdjust="spacingAndGlyphs">1: ≥ 3 CTC</text>
<text x="517.20" y="99.40" font-size="3.0" fill="#ff2a48" font-weight="bold" stroke="#ff2a48" stroke-width="0.15" textLength="2.00" lengthAdjust="spacingAndGlyphs">E</text>
<text x="478.30" y="108.20" font-size="6.0" fill="#1fae45" font-weight="bold" stroke="#1fae45" stroke-width="0.3" textLength="26.60" lengthAdjust="spacingAndGlyphs">2: ≥ 3 CTC</text>
<text x="505.10" y="109.40" font-size="3.0" fill="#1fae45" font-weight="bold" stroke="#1fae45" stroke-width="0.15" textLength="6.30" lengthAdjust="spacingAndGlyphs">E+M</text>
<text x="41.00" y="124.00" font-size="6.2" fill="#141414" font-weight="bold" stroke="#141414" stroke-width="0.1" textLength="31.30" lengthAdjust="spacingAndGlyphs">Time (Days)</text>
<text x="122.80" y="124.60" font-size="6.2" fill="#141414" font-weight="bold" stroke="#141414" stroke-width="0.1" textLength="30.50" lengthAdjust="spacingAndGlyphs">Time (Days)</text>
<text x="211.00" y="124.00" font-size="6.2" fill="#141414" font-weight="bold" stroke="#141414" stroke-width="0.1" textLength="30.00" lengthAdjust="spacingAndGlyphs">Time (Days)</text>
<text x="300.00" y="123.30" font-size="6.2" fill="#141414" font-weight="bold" stroke="#141414" stroke-width="0.1" textLength="31.00" lengthAdjust="spacingAndGlyphs">Time (Days)</text>
<text x="384.00" y="124.60" font-size="6.2" fill="#141414" font-weight="bold" stroke="#141414" stroke-width="0.1" textLength="30.50" lengthAdjust="spacingAndGlyphs">Time (Days)</text>
<text x="479.20" y="125.50" font-size="6.2" fill="#141414" font-weight="bold" stroke="#141414" stroke-width="0.1" textLength="30.50" lengthAdjust="spacingAndGlyphs">Time (Days)</text>
<text x="38.50" y="274.20" font-size="6.2" fill="#141414" font-weight="bold" stroke="#141414" stroke-width="0.1" textLength="30.50" lengthAdjust="spacingAndGlyphs">Time (Days)</text>
<text x="128.00" y="275.00" font-size="6.2" fill="#141414" font-weight="bold" stroke="#141414" stroke-width="0.1" textLength="31.20" lengthAdjust="spacingAndGlyphs">Time (Days)</text>
<text x="217.30" y="276.00" font-size="6.2" fill="#141414" font-weight="bold" stroke="#141414" stroke-width="0.1" textLength="30.50" lengthAdjust="spacingAndGlyphs">Time (Days)</text>
<text x="305.60" y="275.70" font-size="6.2" fill="#141414" font-weight="bold" stroke="#141414" stroke-width="0.1" textLength="29.40" lengthAdjust="spacingAndGlyphs">Time (Days)</text>
<text x="389.20" y="276.00" font-size="6.2" fill="#141414" font-weight="bold" stroke="#141414" stroke-width="0.1" textLength="30.10" lengthAdjust="spacingAndGlyphs">Time (Days)</text>
<text x="490.00" y="277.00" font-size="6.2" fill="#141414" font-weight="bold" stroke="#141414" stroke-width="0.1" textLength="30.20" lengthAdjust="spacingAndGlyphs">Time (Days)</text>
<text x="30.76" y="133.40" font-size="4.1" fill="#141414" font-weight="bold" stroke="#141414" stroke-width="0.09" text-anchor="middle">CTC1</text>
<text x="44.71" y="133.40" font-size="4.1" fill="#141414" font-weight="bold" stroke="#141414" stroke-width="0.09" text-anchor="middle">Total</text>
<text x="56.61" y="133.40" font-size="4.1" fill="#141414" font-weight="bold" stroke="#141414" stroke-width="0.09" text-anchor="middle">Event</text>
<text x="71.37" y="133.40" font-size="4.1" fill="#141414" font-weight="bold" stroke="#141414" stroke-width="0.09" text-anchor="middle">Censored</text>
<text x="84.70" y="133.40" font-size="4.1" fill="#141414" font-weight="bold" stroke="#141414" stroke-width="0.09" text-anchor="middle">%</text>
<line x1="26.01" y1="134.10" x2="35.51" y2="134.10" stroke="#141414" stroke-width="0.35"/>
<text x="28.65" y="138.07" font-size="4.1" fill="#2a2af0" font-weight="bold" stroke="#2a2af0" stroke-width="0.09" text-anchor="middle">0</text>
<text x="44.03" y="138.07" font-size="4.1" fill="#2a2af0" font-weight="bold" stroke="#2a2af0" stroke-width="0.09" text-anchor="middle">49</text>
<text x="57.05" y="138.07" font-size="4.1" fill="#2a2af0" font-weight="bold" stroke="#2a2af0" stroke-width="0.09" text-anchor="middle">26</text>
<text x="69.94" y="138.07" font-size="4.1" fill="#2a2af0" font-weight="bold" stroke="#2a2af0" stroke-width="0.09" text-anchor="middle">23</text>
<text x="83.27" y="138.07" font-size="4.1" fill="#2a2af0" font-weight="bold" stroke="#2a2af0" stroke-width="0.09" text-anchor="middle">46.9</text>
<text x="28.65" y="142.74" font-size="4.1" fill="#f07a35" font-weight="bold" stroke="#f07a35" stroke-width="0.09" text-anchor="middle">1</text>
<text x="44.03" y="142.74" font-size="4.1" fill="#f07a35" font-weight="bold" stroke="#f07a35" stroke-width="0.09" text-anchor="middle">11</text>
<text x="57.05" y="142.74" font-size="4.1" fill="#f07a35" font-weight="bold" stroke="#f07a35" stroke-width="0.09" text-anchor="middle">9</text>
<text x="69.94" y="142.74" font-size="4.1" fill="#f07a35" font-weight="bold" stroke="#f07a35" stroke-width="0.09" text-anchor="middle">2</text>
<text x="83.27" y="142.74" font-size="4.1" fill="#f07a35" font-weight="bold" stroke="#f07a35" stroke-width="0.09" text-anchor="middle">18.2</text>
<text x="25.80" y="147.41" font-size="4.1" fill="#141414" font-weight="bold" stroke="#141414" stroke-width="0.09">Overall</text>
<text x="44.03" y="147.41" font-size="4.1" fill="#141414" font-weight="bold" stroke="#141414" stroke-width="0.09" text-anchor="middle">60</text>
<text x="57.05" y="147.41" font-size="4.1" fill="#141414" font-weight="bold" stroke="#141414" stroke-width="0.09" text-anchor="middle">35</text>
<text x="69.94" y="147.41" font-size="4.1" fill="#141414" font-weight="bold" stroke="#141414" stroke-width="0.09" text-anchor="middle">25</text>
<text x="83.27" y="147.41" font-size="4.1" fill="#141414" font-weight="bold" stroke="#141414" stroke-width="0.09" text-anchor="middle">41.7</text>
<text x="110.64" y="132.60" font-size="4.1" fill="#141414" font-weight="bold" stroke="#141414" stroke-width="0.09" text-anchor="middle">CTC1</text>
<text x="124.55" y="132.60" font-size="4.1" fill="#141414" font-weight="bold" stroke="#141414" stroke-width="0.09" text-anchor="middle">Total</text>
<text x="136.41" y="132.60" font-size="4.1" fill="#141414" font-weight="bold" stroke="#141414" stroke-width="0.09" text-anchor="middle">Event</text>
<text x="151.12" y="132.60" font-size="4.1" fill="#141414" font-weight="bold" stroke="#141414" stroke-width="0.09" text-anchor="middle">Censored</text>
<text x="164.41" y="132.60" font-size="4.1" fill="#141414" font-weight="bold" stroke="#141414" stroke-width="0.09" text-anchor="middle">%</text>
<line x1="105.89" y1="133.30" x2="115.39" y2="133.30" stroke="#141414" stroke-width="0.35"/>
<text x="108.54" y="137.20" font-size="4.1" fill="#2a2af0" font-weight="bold" stroke="#2a2af0" stroke-width="0.09" text-anchor="middle">0</text>
<text x="123.87" y="137.20" font-size="4.1" fill="#2a2af0" font-weight="bold" stroke="#2a2af0" stroke-width="0.09" text-anchor="middle">10</text>
<text x="136.85" y="137.20" font-size="4.1" fill="#2a2af0" font-weight="bold" stroke="#2a2af0" stroke-width="0.09" text-anchor="middle">5</text>
<text x="149.70" y="137.20" font-size="4.1" fill="#2a2af0" font-weight="bold" stroke="#2a2af0" stroke-width="0.09" text-anchor="middle">5</text>
<text x="162.99" y="137.20" font-size="4.1" fill="#2a2af0" font-weight="bold" stroke="#2a2af0" stroke-width="0.09" text-anchor="middle">50.0</text>
<text x="108.54" y="141.80" font-size="4.1" fill="#1fae45" font-weight="bold" stroke="#1fae45" stroke-width="0.09" text-anchor="middle">1</text>
<text x="123.87" y="141.80" font-size="4.1" fill="#1fae45" font-weight="bold" stroke="#1fae45" stroke-width="0.09" text-anchor="middle">12</text>
<text x="136.85" y="141.80" font-size="4.1" fill="#1fae45" font-weight="bold" stroke="#1fae45" stroke-width="0.09" text-anchor="middle">11</text>
<text x="149.70" y="141.80" font-size="4.1" fill="#1fae45" font-weight="bold" stroke="#1fae45" stroke-width="0.09" text-anchor="middle">1</text>
<text x="162.99" y="141.80" font-size="4.1" fill="#1fae45" font-weight="bold" stroke="#1fae45" stroke-width="0.09" text-anchor="middle">8.3</text>
<text x="105.70" y="146.40" font-size="4.1" fill="#141414" font-weight="bold" stroke="#141414" stroke-width="0.09">Overall</text>
<text x="123.87" y="146.40" font-size="4.1" fill="#141414" font-weight="bold" stroke="#141414" stroke-width="0.09" text-anchor="middle">22</text>
<text x="136.85" y="146.40" font-size="4.1" fill="#141414" font-weight="bold" stroke="#141414" stroke-width="0.09" text-anchor="middle">16</text>
<text x="149.70" y="146.40" font-size="4.1" fill="#141414" font-weight="bold" stroke="#141414" stroke-width="0.09" text-anchor="middle">6</text>
<text x="162.99" y="146.40" font-size="4.1" fill="#141414" font-weight="bold" stroke="#141414" stroke-width="0.09" text-anchor="middle">27.3</text>
<text x="198.38" y="131.50" font-size="4.1" fill="#141414" font-weight="bold" stroke="#141414" stroke-width="0.09" text-anchor="middle">CTC1</text>
<text x="211.84" y="131.50" font-size="4.1" fill="#141414" font-weight="bold" stroke="#141414" stroke-width="0.09" text-anchor="middle">Total</text>
<text x="223.32" y="131.50" font-size="4.1" fill="#141414" font-weight="bold" stroke="#141414" stroke-width="0.09" text-anchor="middle">Event</text>
<text x="237.55" y="131.50" font-size="4.1" fill="#141414" font-weight="bold" stroke="#141414" stroke-width="0.09" text-anchor="middle">Censored</text>
<text x="250.41" y="131.50" font-size="4.1" fill="#141414" font-weight="bold" stroke="#141414" stroke-width="0.09" text-anchor="middle">%</text>
<line x1="193.63" y1="132.20" x2="203.13" y2="132.20" stroke="#141414" stroke-width="0.35"/>
<text x="196.35" y="135.90" font-size="4.1" fill="#2a2af0" font-weight="bold" stroke="#2a2af0" stroke-width="0.09" text-anchor="middle">0</text>
<text x="211.18" y="135.90" font-size="4.1" fill="#2a2af0" font-weight="bold" stroke="#2a2af0" stroke-width="0.09" text-anchor="middle">43</text>
<text x="223.74" y="135.90" font-size="4.1" fill="#2a2af0" font-weight="bold" stroke="#2a2af0" stroke-width="0.09" text-anchor="middle">21</text>
<text x="236.18" y="135.90" font-size="4.1" fill="#2a2af0" font-weight="bold" stroke="#2a2af0" stroke-width="0.09" text-anchor="middle">22</text>
<text x="249.03" y="135.90" font-size="4.1" fill="#2a2af0" font-weight="bold" stroke="#2a2af0" stroke-width="0.09" text-anchor="middle">50.0</text>
<text x="196.35" y="140.30" font-size="4.1" fill="#f07a35" font-weight="bold" stroke="#f07a35" stroke-width="0.09" text-anchor="middle">1</text>
<text x="211.18" y="140.30" font-size="4.1" fill="#f07a35" font-weight="bold" stroke="#f07a35" stroke-width="0.09" text-anchor="middle">11</text>
<text x="223.74" y="140.30" font-size="4.1" fill="#f07a35" font-weight="bold" stroke="#f07a35" stroke-width="0.09" text-anchor="middle">9</text>
<text x="236.18" y="140.30" font-size="4.1" fill="#f07a35" font-weight="bold" stroke="#f07a35" stroke-width="0.09" text-anchor="middle">2</text>
<text x="249.03" y="140.30" font-size="4.1" fill="#f07a35" font-weight="bold" stroke="#f07a35" stroke-width="0.09" text-anchor="middle">18.2</text>
<text x="196.35" y="144.70" font-size="4.1" fill="#1fae45" font-weight="bold" stroke="#1fae45" stroke-width="0.09" text-anchor="middle">2</text>
<text x="211.18" y="144.70" font-size="4.1" fill="#1fae45" font-weight="bold" stroke="#1fae45" stroke-width="0.09" text-anchor="middle">6</text>
<text x="223.74" y="144.70" font-size="4.1" fill="#1fae45" font-weight="bold" stroke="#1fae45" stroke-width="0.09" text-anchor="middle">5</text>
<text x="236.18" y="144.70" font-size="4.1" fill="#1fae45" font-weight="bold" stroke="#1fae45" stroke-width="0.09" text-anchor="middle">1</text>
<text x="249.03" y="144.70" font-size="4.1" fill="#1fae45" font-weight="bold" stroke="#1fae45" stroke-width="0.09" text-anchor="middle">16.7</text>
<text x="193.60" y="149.10" font-size="4.1" fill="#141414" font-weight="bold" stroke="#141414" stroke-width="0.09">Overall</text>
<text x="211.18" y="149.10" font-size="4.1" fill="#141414" font-weight="bold" stroke="#141414" stroke-width="0.09" text-anchor="middle">60</text>
<text x="223.74" y="149.10" font-size="4.1" fill="#141414" font-weight="bold" stroke="#141414" stroke-width="0.09" text-anchor="middle">35</text>
<text x="236.18" y="149.10" font-size="4.1" fill="#141414" font-weight="bold" stroke="#141414" stroke-width="0.09" text-anchor="middle">25</text>
<text x="249.03" y="149.10" font-size="4.1" fill="#141414" font-weight="bold" stroke="#141414" stroke-width="0.09" text-anchor="middle">41.7</text>
<text x="286.92" y="130.50" font-size="4.1" fill="#141414" font-weight="bold" stroke="#141414" stroke-width="0.09" text-anchor="middle">CTC4</text>
<text x="300.76" y="130.50" font-size="4.1" fill="#141414" font-weight="bold" stroke="#141414" stroke-width="0.09" text-anchor="middle">Total</text>
<text x="312.57" y="130.50" font-size="4.1" fill="#141414" font-weight="bold" stroke="#141414" stroke-width="0.09" text-anchor="middle">Event</text>
<text x="327.20" y="130.50" font-size="4.1" fill="#141414" font-weight="bold" stroke="#141414" stroke-width="0.09" text-anchor="middle">Censored</text>
<text x="340.43" y="130.50" font-size="4.1" fill="#141414" font-weight="bold" stroke="#141414" stroke-width="0.09" text-anchor="middle">%</text>
<line x1="282.17" y1="131.20" x2="291.67" y2="131.20" stroke="#141414" stroke-width="0.35"/>
<text x="284.83" y="134.90" font-size="4.1" fill="#2a2af0" font-weight="bold" stroke="#2a2af0" stroke-width="0.09" text-anchor="middle">0</text>
<text x="300.08" y="134.90" font-size="4.1" fill="#2a2af0" font-weight="bold" stroke="#2a2af0" stroke-width="0.09" text-anchor="middle">54</text>
<text x="313.00" y="134.90" font-size="4.1" fill="#2a2af0" font-weight="bold" stroke="#2a2af0" stroke-width="0.09" text-anchor="middle">25</text>
<text x="325.79" y="134.90" font-size="4.1" fill="#2a2af0" font-weight="bold" stroke="#2a2af0" stroke-width="0.09" text-anchor="middle">29</text>
<text x="339.01" y="134.90" font-size="4.1" fill="#2a2af0" font-weight="bold" stroke="#2a2af0" stroke-width="0.09" text-anchor="middle">53.7</text>
<text x="284.83" y="139.30" font-size="4.1" fill="#ff2a48" font-weight="bold" stroke="#ff2a48" stroke-width="0.09" text-anchor="middle">1</text>
<text x="300.08" y="139.30" font-size="4.1" fill="#ff2a48" font-weight="bold" stroke="#ff2a48" stroke-width="0.09" text-anchor="middle">9</text>
<text x="313.00" y="139.30" font-size="4.1" fill="#ff2a48" font-weight="bold" stroke="#ff2a48" stroke-width="0.09" text-anchor="middle">7</text>
<text x="325.79" y="139.30" font-size="4.1" fill="#ff2a48" font-weight="bold" stroke="#ff2a48" stroke-width="0.09" text-anchor="middle">2</text>
<text x="339.01" y="139.30" font-size="4.1" fill="#ff2a48" font-weight="bold" stroke="#ff2a48" stroke-width="0.09" text-anchor="middle">22.2</text>
<text x="282.00" y="143.70" font-size="4.1" fill="#141414" font-weight="bold" stroke="#141414" stroke-width="0.09">Overall</text>
<text x="300.08" y="143.70" font-size="4.1" fill="#141414" font-weight="bold" stroke="#141414" stroke-width="0.09" text-anchor="middle">63</text>
<text x="313.00" y="143.70" font-size="4.1" fill="#141414" font-weight="bold" stroke="#141414" stroke-width="0.09" text-anchor="middle">33</text>
<text x="325.79" y="143.70" font-size="4.1" fill="#141414" font-weight="bold" stroke="#141414" stroke-width="0.09" text-anchor="middle">31</text>
<text x="339.01" y="143.70" font-size="4.1" fill="#141414" font-weight="bold" stroke="#141414" stroke-width="0.09" text-anchor="middle">49.2</text>
<text x="374.87" y="132.70" font-size="4.1" fill="#141414" font-weight="bold" stroke="#141414" stroke-width="0.09" text-anchor="middle">CTC4</text>
<text x="389.14" y="132.70" font-size="4.1" fill="#141414" font-weight="bold" stroke="#141414" stroke-width="0.09" text-anchor="middle">Total</text>
<text x="401.31" y="132.70" font-size="4.1" fill="#141414" font-weight="bold" stroke="#141414" stroke-width="0.09" text-anchor="middle">Event</text>
<text x="416.40" y="132.70" font-size="4.1" fill="#141414" font-weight="bold" stroke="#141414" stroke-width="0.09" text-anchor="middle">Censored</text>
<text x="430.03" y="132.70" font-size="4.1" fill="#141414" font-weight="bold" stroke="#141414" stroke-width="0.09" text-anchor="middle">%</text>
<line x1="370.12" y1="133.40" x2="379.62" y2="133.40" stroke="#141414" stroke-width="0.35"/>
<text x="372.72" y="137.27" font-size="4.1" fill="#2a2af0" font-weight="bold" stroke="#2a2af0" stroke-width="0.09" text-anchor="middle">0</text>
<text x="388.44" y="137.27" font-size="4.1" fill="#2a2af0" font-weight="bold" stroke="#2a2af0" stroke-width="0.09" text-anchor="middle">20</text>
<text x="401.75" y="137.27" font-size="4.1" fill="#2a2af0" font-weight="bold" stroke="#2a2af0" stroke-width="0.09" text-anchor="middle">9</text>
<text x="414.94" y="137.27" font-size="4.1" fill="#2a2af0" font-weight="bold" stroke="#2a2af0" stroke-width="0.09" text-anchor="middle">11</text>
<text x="428.57" y="137.27" font-size="4.1" fill="#2a2af0" font-weight="bold" stroke="#2a2af0" stroke-width="0.09" text-anchor="middle">55.0</text>
<text x="372.72" y="141.84" font-size="4.1" fill="#1fae45" font-weight="bold" stroke="#1fae45" stroke-width="0.09" text-anchor="middle">1</text>
<text x="388.44" y="141.84" font-size="4.1" fill="#1fae45" font-weight="bold" stroke="#1fae45" stroke-width="0.09" text-anchor="middle">10</text>
<text x="401.75" y="141.84" font-size="4.1" fill="#1fae45" font-weight="bold" stroke="#1fae45" stroke-width="0.09" text-anchor="middle">10</text>
<text x="414.94" y="141.84" font-size="4.1" fill="#1fae45" font-weight="bold" stroke="#1fae45" stroke-width="0.09" text-anchor="middle">0</text>
<text x="428.57" y="141.84" font-size="4.1" fill="#1fae45" font-weight="bold" stroke="#1fae45" stroke-width="0.09" text-anchor="middle">0.0</text>
<text x="369.80" y="146.41" font-size="4.1" fill="#141414" font-weight="bold" stroke="#141414" stroke-width="0.09">Overall</text>
<text x="388.44" y="146.41" font-size="4.1" fill="#141414" font-weight="bold" stroke="#141414" stroke-width="0.09" text-anchor="middle">30</text>
<text x="401.75" y="146.41" font-size="4.1" fill="#141414" font-weight="bold" stroke="#141414" stroke-width="0.09" text-anchor="middle">19</text>
<text x="414.94" y="146.41" font-size="4.1" fill="#141414" font-weight="bold" stroke="#141414" stroke-width="0.09" text-anchor="middle">11</text>
<text x="428.57" y="146.41" font-size="4.1" fill="#141414" font-weight="bold" stroke="#141414" stroke-width="0.09" text-anchor="middle">36.7</text>
<text x="469.09" y="130.10" font-size="4.1" fill="#141414" font-weight="bold" stroke="#141414" stroke-width="0.09" text-anchor="middle">CTC4</text>
<text x="483.69" y="130.10" font-size="4.1" fill="#141414" font-weight="bold" stroke="#141414" stroke-width="0.09" text-anchor="middle">Total</text>
<text x="496.16" y="130.10" font-size="4.1" fill="#141414" font-weight="bold" stroke="#141414" stroke-width="0.09" text-anchor="middle">Event</text>
<text x="511.60" y="130.10" font-size="4.1" fill="#141414" font-weight="bold" stroke="#141414" stroke-width="0.09" text-anchor="middle">Censored</text>
<text x="525.55" y="130.10" font-size="4.1" fill="#141414" font-weight="bold" stroke="#141414" stroke-width="0.09" text-anchor="middle">%</text>
<line x1="464.34" y1="130.80" x2="473.84" y2="130.80" stroke="#141414" stroke-width="0.35"/>
<text x="466.89" y="134.65" font-size="4.1" fill="#2a2af0" font-weight="bold" stroke="#2a2af0" stroke-width="0.09" text-anchor="middle">0</text>
<text x="482.98" y="134.65" font-size="4.1" fill="#2a2af0" font-weight="bold" stroke="#2a2af0" stroke-width="0.09" text-anchor="middle">49</text>
<text x="496.61" y="134.65" font-size="4.1" fill="#2a2af0" font-weight="bold" stroke="#2a2af0" stroke-width="0.09" text-anchor="middle">20</text>
<text x="510.11" y="134.65" font-size="4.1" fill="#2a2af0" font-weight="bold" stroke="#2a2af0" stroke-width="0.09" text-anchor="middle">29</text>
<text x="524.06" y="134.65" font-size="4.1" fill="#2a2af0" font-weight="bold" stroke="#2a2af0" stroke-width="0.09" text-anchor="middle">59.2</text>
<text x="466.89" y="139.20" font-size="4.1" fill="#ff2a48" font-weight="bold" stroke="#ff2a48" stroke-width="0.09" text-anchor="middle">1</text>
<text x="482.98" y="139.20" font-size="4.1" fill="#ff2a48" font-weight="bold" stroke="#ff2a48" stroke-width="0.09" text-anchor="middle">9</text>
<text x="496.61" y="139.20" font-size="4.1" fill="#ff2a48" font-weight="bold" stroke="#ff2a48" stroke-width="0.09" text-anchor="middle">7</text>
<text x="510.11" y="139.20" font-size="4.1" fill="#ff2a48" font-weight="bold" stroke="#ff2a48" stroke-width="0.09" text-anchor="middle">2</text>
<text x="524.06" y="139.20" font-size="4.1" fill="#ff2a48" font-weight="bold" stroke="#ff2a48" stroke-width="0.09" text-anchor="middle">22.2</text>
<text x="466.89" y="143.75" font-size="4.1" fill="#1fae45" font-weight="bold" stroke="#1fae45" stroke-width="0.09" text-anchor="middle">2</text>
<text x="482.98" y="143.75" font-size="4.1" fill="#1fae45" font-weight="bold" stroke="#1fae45" stroke-width="0.09" text-anchor="middle">5</text>
<text x="496.61" y="143.75" font-size="4.1" fill="#1fae45" font-weight="bold" stroke="#1fae45" stroke-width="0.09" text-anchor="middle">5</text>
<text x="510.11" y="143.75" font-size="4.1" fill="#1fae45" font-weight="bold" stroke="#1fae45" stroke-width="0.09" text-anchor="middle">0</text>
<text x="524.06" y="143.75" font-size="4.1" fill="#1fae45" font-weight="bold" stroke="#1fae45" stroke-width="0.09" text-anchor="middle">0.0</text>
<text x="463.90" y="148.30" font-size="4.1" fill="#141414" font-weight="bold" stroke="#141414" stroke-width="0.09">Overall</text>
<text x="482.98" y="148.30" font-size="4.1" fill="#141414" font-weight="bold" stroke="#141414" stroke-width="0.09" text-anchor="middle">63</text>
<text x="496.61" y="148.30" font-size="4.1" fill="#141414" font-weight="bold" stroke="#141414" stroke-width="0.09" text-anchor="middle">32</text>
<text x="510.11" y="148.30" font-size="4.1" fill="#141414" font-weight="bold" stroke="#141414" stroke-width="0.09" text-anchor="middle">31</text>
<text x="524.06" y="148.30" font-size="4.1" fill="#141414" font-weight="bold" stroke="#141414" stroke-width="0.09" text-anchor="middle">49.2</text>
<text x="52.90" y="168.40" font-size="6.1" fill="#141414" font-weight="normal" stroke="#141414" stroke-width="0.07" textLength="8.20" lengthAdjust="spacingAndGlyphs">OS</text>
<line x1="52.90" y1="169.30" x2="61.10" y2="169.30" stroke="#141414" stroke-width="0.45"/>
<text x="136.00" y="168.90" font-size="6.1" fill="#141414" font-weight="normal" stroke="#141414" stroke-width="0.07" textLength="7.10" lengthAdjust="spacingAndGlyphs">OS</text>
<line x1="136.00" y1="169.80" x2="143.10" y2="169.80" stroke="#141414" stroke-width="0.45"/>
<text x="224.50" y="168.90" font-size="6.1" fill="#141414" font-weight="normal" stroke="#141414" stroke-width="0.07" textLength="7.70" lengthAdjust="spacingAndGlyphs">OS</text>
<line x1="224.50" y1="169.80" x2="232.20" y2="169.80" stroke="#141414" stroke-width="0.45"/>
<text x="320.10" y="168.40" font-size="6.1" fill="#141414" font-weight="normal" stroke="#141414" stroke-width="0.07" textLength="7.60" lengthAdjust="spacingAndGlyphs">OS</text>
<line x1="320.10" y1="169.30" x2="327.70" y2="169.30" stroke="#141414" stroke-width="0.45"/>
<text x="398.20" y="168.40" font-size="6.1" fill="#141414" font-weight="normal" stroke="#141414" stroke-width="0.07" textLength="7.10" lengthAdjust="spacingAndGlyphs">OS</text>
<line x1="398.20" y1="169.30" x2="405.30" y2="169.30" stroke="#141414" stroke-width="0.45"/>
<text x="492.20" y="168.40" font-size="6.1" fill="#141414" font-weight="normal" stroke="#141414" stroke-width="0.07" textLength="7.10" lengthAdjust="spacingAndGlyphs">OS</text>
<line x1="492.20" y1="169.30" x2="499.30" y2="169.30" stroke="#141414" stroke-width="0.45"/>
<text x="34.40" y="176.50" font-size="6.0" fill="#141414" font-weight="normal" stroke="#141414" stroke-width="0.08" textLength="47.40" lengthAdjust="spacingAndGlyphs">Log Rank <tspan font-style="italic">p</tspan> = 0.115</text>
<text x="122.90" y="176.50" font-size="6.0" fill="#141414" font-weight="bold" textLength="48.50" lengthAdjust="spacingAndGlyphs">Log Rank <tspan font-style="italic">p</tspan> = 0.016</text>
<text x="203.80" y="176.30" font-size="6.0" fill="#141414" font-weight="bold" textLength="48.50" lengthAdjust="spacingAndGlyphs">Log Rank <tspan font-style="italic">p</tspan> = 0.001</text>
<text x="301.00" y="176.50" font-size="6.0" fill="#141414" font-weight="normal" stroke="#141414" stroke-width="0.08" textLength="44.20" lengthAdjust="spacingAndGlyphs">Log Rank p = 0.24</text>
<text x="379.10" y="176.00" font-size="6.0" fill="#141414" font-weight="bold" textLength="47.40" lengthAdjust="spacingAndGlyphs">Log Rank <tspan font-style="italic">p</tspan> = 0.014</text>
<text x="472.00" y="176.30" font-size="6.0" fill="#141414" font-weight="normal" stroke="#141414" stroke-width="0.08" textLength="47.40" lengthAdjust="spacingAndGlyphs">Log Rank <tspan font-style="italic">p</tspan> = 0.069</text>
<line x1="16.0" y1="180" x2="16.0" y2="262" stroke="#cfcfcf" stroke-width="0.6"/>
<line x1="16.0" y1="262" x2="88" y2="262" stroke="#cfcfcf" stroke-width="0.6"/>
<line x1="15.0" y1="183.20" x2="16.0" y2="183.20" stroke="#cfcfcf" stroke-width="0.5"/>
<text x="13.70" y="184.30" font-size="3.0" fill="#4a4a4a" font-weight="normal" stroke="#4a4a4a" stroke-width="0.08" text-anchor="end">1.0</text>
<line x1="15.0" y1="198.16" x2="16.0" y2="198.16" stroke="#cfcfcf" stroke-width="0.5"/>
<text x="13.70" y="199.26" font-size="3.0" fill="#4a4a4a" font-weight="normal" stroke="#4a4a4a" stroke-width="0.08" text-anchor="end">0.8</text>
<line x1="15.0" y1="213.12" x2="16.0" y2="213.12" stroke="#cfcfcf" stroke-width="0.5"/>
<text x="13.70" y="214.22" font-size="3.0" fill="#4a4a4a" font-weight="normal" stroke="#4a4a4a" stroke-width="0.08" text-anchor="end">0.6</text>
<line x1="15.0" y1="228.08" x2="16.0" y2="228.08" stroke="#cfcfcf" stroke-width="0.5"/>
<text x="13.70" y="229.18" font-size="3.0" fill="#4a4a4a" font-weight="normal" stroke="#4a4a4a" stroke-width="0.08" text-anchor="end">0.4</text>
<line x1="15.0" y1="243.04" x2="16.0" y2="243.04" stroke="#cfcfcf" stroke-width="0.5"/>
<text x="13.70" y="244.14" font-size="3.0" fill="#4a4a4a" font-weight="normal" stroke="#4a4a4a" stroke-width="0.08" text-anchor="end">0.2</text>
<line x1="15.0" y1="258.00" x2="16.0" y2="258.00" stroke="#cfcfcf" stroke-width="0.5"/>
<text x="13.70" y="259.10" font-size="3.0" fill="#4a4a4a" font-weight="normal" stroke="#4a4a4a" stroke-width="0.08" text-anchor="end">0.0</text>
<line x1="19.70" y1="262" x2="19.70" y2="263" stroke="#cfcfcf" stroke-width="0.5"/>
<text x="19.70" y="268.20" font-size="3.0" fill="#4a4a4a" font-weight="normal" stroke="#4a4a4a" stroke-width="0.08" text-anchor="middle">0</text>
<line x1="35.27" y1="262" x2="35.27" y2="263" stroke="#cfcfcf" stroke-width="0.5"/>
<text x="35.27" y="268.20" font-size="3.0" fill="#4a4a4a" font-weight="normal" stroke="#4a4a4a" stroke-width="0.08" text-anchor="middle">500</text>
<line x1="50.85" y1="262" x2="50.85" y2="263" stroke="#cfcfcf" stroke-width="0.5"/>
<text x="50.85" y="268.20" font-size="3.0" fill="#4a4a4a" font-weight="normal" stroke="#4a4a4a" stroke-width="0.08" text-anchor="middle">1000</text>
<line x1="66.42" y1="262" x2="66.42" y2="263" stroke="#cfcfcf" stroke-width="0.5"/>
<text x="66.42" y="268.20" font-size="3.0" fill="#4a4a4a" font-weight="normal" stroke="#4a4a4a" stroke-width="0.08" text-anchor="middle">1500</text>
<line x1="82.00" y1="262" x2="82.00" y2="263" stroke="#cfcfcf" stroke-width="0.5"/>
<text x="82.00" y="268.20" font-size="3.0" fill="#4a4a4a" font-weight="normal" stroke="#4a4a4a" stroke-width="0.08" text-anchor="middle">2000</text>
<text x="0" y="0" transform="translate(9.80,219.20) rotate(-90)" font-size="5.6" font-weight="bold" fill="#141414" text-anchor="middle" textLength="44.80" lengthAdjust="spacingAndGlyphs">Probability of OS</text>
<line x1="101.4" y1="180.5" x2="101.4" y2="262" stroke="#cfcfcf" stroke-width="0.6"/>
<line x1="101.4" y1="262" x2="174" y2="262" stroke="#cfcfcf" stroke-width="0.6"/>
<line x1="100.4" y1="183.20" x2="101.4" y2="183.20" stroke="#cfcfcf" stroke-width="0.5"/>
<text x="99.10" y="184.30" font-size="3.0" fill="#4a4a4a" font-weight="normal" stroke="#4a4a4a" stroke-width="0.08" text-anchor="end">1.0</text>
<line x1="100.4" y1="198.16" x2="101.4" y2="198.16" stroke="#cfcfcf" stroke-width="0.5"/>
<text x="99.10" y="199.26" font-size="3.0" fill="#4a4a4a" font-weight="normal" stroke="#4a4a4a" stroke-width="0.08" text-anchor="end">0.8</text>
<line x1="100.4" y1="213.12" x2="101.4" y2="213.12" stroke="#cfcfcf" stroke-width="0.5"/>
<text x="99.10" y="214.22" font-size="3.0" fill="#4a4a4a" font-weight="normal" stroke="#4a4a4a" stroke-width="0.08" text-anchor="end">0.6</text>
<line x1="100.4" y1="228.08" x2="101.4" y2="228.08" stroke="#cfcfcf" stroke-width="0.5"/>
<text x="99.10" y="229.18" font-size="3.0" fill="#4a4a4a" font-weight="normal" stroke="#4a4a4a" stroke-width="0.08" text-anchor="end">0.4</text>
<line x1="100.4" y1="243.04" x2="101.4" y2="243.04" stroke="#cfcfcf" stroke-width="0.5"/>
<text x="99.10" y="244.14" font-size="3.0" fill="#4a4a4a" font-weight="normal" stroke="#4a4a4a" stroke-width="0.08" text-anchor="end">0.2</text>
<line x1="100.4" y1="258.00" x2="101.4" y2="258.00" stroke="#cfcfcf" stroke-width="0.5"/>
<text x="99.10" y="259.10" font-size="3.0" fill="#4a4a4a" font-weight="normal" stroke="#4a4a4a" stroke-width="0.08" text-anchor="end">0.0</text>
<line x1="104.70" y1="262" x2="104.70" y2="263" stroke="#cfcfcf" stroke-width="0.5"/>
<text x="104.70" y="268.90" font-size="3.0" fill="#4a4a4a" font-weight="normal" stroke="#4a4a4a" stroke-width="0.08" text-anchor="middle">0</text>
<line x1="117.56" y1="262" x2="117.56" y2="263" stroke="#cfcfcf" stroke-width="0.5"/>
<text x="117.56" y="268.90" font-size="3.0" fill="#4a4a4a" font-weight="normal" stroke="#4a4a4a" stroke-width="0.08" text-anchor="middle">20</text>
<line x1="130.42" y1="262" x2="130.42" y2="263" stroke="#cfcfcf" stroke-width="0.5"/>
<text x="130.42" y="268.90" font-size="3.0" fill="#4a4a4a" font-weight="normal" stroke="#4a4a4a" stroke-width="0.08" text-anchor="middle">40</text>
<line x1="143.28" y1="262" x2="143.28" y2="263" stroke="#cfcfcf" stroke-width="0.5"/>
<text x="143.28" y="268.90" font-size="3.0" fill="#4a4a4a" font-weight="normal" stroke="#4a4a4a" stroke-width="0.08" text-anchor="middle">60</text>
<line x1="156.14" y1="262" x2="156.14" y2="263" stroke="#cfcfcf" stroke-width="0.5"/>
<text x="156.14" y="268.90" font-size="3.0" fill="#4a4a4a" font-weight="normal" stroke="#4a4a4a" stroke-width="0.08" text-anchor="middle">80</text>
<line x1="169.00" y1="262" x2="169.00" y2="263" stroke="#cfcfcf" stroke-width="0.5"/>
<text x="169.00" y="268.90" font-size="3.0" fill="#4a4a4a" font-weight="normal" stroke="#4a4a4a" stroke-width="0.08" text-anchor="middle">100</text>
<text x="0" y="0" transform="translate(92.80,218.70) rotate(-90)" font-size="5.6" font-weight="bold" fill="#141414" text-anchor="middle" textLength="45.80" lengthAdjust="spacingAndGlyphs">Probability of OS</text>
<line x1="190.7" y1="180" x2="190.7" y2="261.6" stroke="#cfcfcf" stroke-width="0.6"/>
<line x1="190.7" y1="261.6" x2="262" y2="261.6" stroke="#cfcfcf" stroke-width="0.6"/>
<line x1="189.7" y1="183.20" x2="190.7" y2="183.20" stroke="#cfcfcf" stroke-width="0.5"/>
<text x="188.40" y="184.30" font-size="3.0" fill="#4a4a4a" font-weight="normal" stroke="#4a4a4a" stroke-width="0.08" text-anchor="end">1.0</text>
<line x1="189.7" y1="198.10" x2="190.7" y2="198.10" stroke="#cfcfcf" stroke-width="0.5"/>
<text x="188.40" y="199.20" font-size="3.0" fill="#4a4a4a" font-weight="normal" stroke="#4a4a4a" stroke-width="0.08" text-anchor="end">0.8</text>
<line x1="189.7" y1="213.00" x2="190.7" y2="213.00" stroke="#cfcfcf" stroke-width="0.5"/>
<text x="188.40" y="214.10" font-size="3.0" fill="#4a4a4a" font-weight="normal" stroke="#4a4a4a" stroke-width="0.08" text-anchor="end">0.6</text>
<line x1="189.7" y1="227.90" x2="190.7" y2="227.90" stroke="#cfcfcf" stroke-width="0.5"/>
<text x="188.40" y="229.00" font-size="3.0" fill="#4a4a4a" font-weight="normal" stroke="#4a4a4a" stroke-width="0.08" text-anchor="end">0.4</text>
<line x1="189.7" y1="242.80" x2="190.7" y2="242.80" stroke="#cfcfcf" stroke-width="0.5"/>
<text x="188.40" y="243.90" font-size="3.0" fill="#4a4a4a" font-weight="normal" stroke="#4a4a4a" stroke-width="0.08" text-anchor="end">0.2</text>
<line x1="189.7" y1="257.70" x2="190.7" y2="257.70" stroke="#cfcfcf" stroke-width="0.5"/>
<text x="188.40" y="258.80" font-size="3.0" fill="#4a4a4a" font-weight="normal" stroke="#4a4a4a" stroke-width="0.08" text-anchor="end">0.0</text>
<line x1="193.20" y1="261.6" x2="193.20" y2="262.6" stroke="#cfcfcf" stroke-width="0.5"/>
<text x="193.20" y="267.60" font-size="3.0" fill="#4a4a4a" font-weight="normal" stroke="#4a4a4a" stroke-width="0.08" text-anchor="middle">0</text>
<line x1="209.35" y1="261.6" x2="209.35" y2="262.6" stroke="#cfcfcf" stroke-width="0.5"/>
<text x="209.35" y="267.60" font-size="3.0" fill="#4a4a4a" font-weight="normal" stroke="#4a4a4a" stroke-width="0.08" text-anchor="middle">500</text>
<line x1="225.50" y1="261.6" x2="225.50" y2="262.6" stroke="#cfcfcf" stroke-width="0.5"/>
<text x="225.50" y="267.60" font-size="3.0" fill="#4a4a4a" font-weight="normal" stroke="#4a4a4a" stroke-width="0.08" text-anchor="middle">1000</text>
<line x1="241.65" y1="261.6" x2="241.65" y2="262.6" stroke="#cfcfcf" stroke-width="0.5"/>
<text x="241.65" y="267.60" font-size="3.0" fill="#4a4a4a" font-weight="normal" stroke="#4a4a4a" stroke-width="0.08" text-anchor="middle">1500</text>
<line x1="257.80" y1="261.6" x2="257.80" y2="262.6" stroke="#cfcfcf" stroke-width="0.5"/>
<text x="257.80" y="267.60" font-size="3.0" fill="#4a4a4a" font-weight="normal" stroke="#4a4a4a" stroke-width="0.08" text-anchor="middle">2000</text>
<text x="0" y="0" transform="translate(183.40,219.20) rotate(-90)" font-size="5.6" font-weight="bold" fill="#141414" text-anchor="middle" textLength="44.80" lengthAdjust="spacingAndGlyphs">Probability of OS</text>
<line x1="280.2" y1="178.5" x2="280.2" y2="260.4" stroke="#cfcfcf" stroke-width="0.6"/>
<line x1="280.2" y1="260.4" x2="352" y2="260.4" stroke="#cfcfcf" stroke-width="0.6"/>
<line x1="279.2" y1="181.90" x2="280.2" y2="181.90" stroke="#cfcfcf" stroke-width="0.5"/>
<text x="277.90" y="183.00" font-size="3.0" fill="#4a4a4a" font-weight="normal" stroke="#4a4a4a" stroke-width="0.08" text-anchor="end">1.0</text>
<line x1="279.2" y1="196.74" x2="280.2" y2="196.74" stroke="#cfcfcf" stroke-width="0.5"/>
<text x="277.90" y="197.84" font-size="3.0" fill="#4a4a4a" font-weight="normal" stroke="#4a4a4a" stroke-width="0.08" text-anchor="end">0.8</text>
<line x1="279.2" y1="211.58" x2="280.2" y2="211.58" stroke="#cfcfcf" stroke-width="0.5"/>
<text x="277.90" y="212.68" font-size="3.0" fill="#4a4a4a" font-weight="normal" stroke="#4a4a4a" stroke-width="0.08" text-anchor="end">0.6</text>
<line x1="279.2" y1="226.42" x2="280.2" y2="226.42" stroke="#cfcfcf" stroke-width="0.5"/>
<text x="277.90" y="227.52" font-size="3.0" fill="#4a4a4a" font-weight="normal" stroke="#4a4a4a" stroke-width="0.08" text-anchor="end">0.4</text>
<line x1="279.2" y1="241.26" x2="280.2" y2="241.26" stroke="#cfcfcf" stroke-width="0.5"/>
<text x="277.90" y="242.36" font-size="3.0" fill="#4a4a4a" font-weight="normal" stroke="#4a4a4a" stroke-width="0.08" text-anchor="end">0.2</text>
<line x1="279.2" y1="256.10" x2="280.2" y2="256.10" stroke="#cfcfcf" stroke-width="0.5"/>
<text x="277.90" y="257.20" font-size="3.0" fill="#4a4a4a" font-weight="normal" stroke="#4a4a4a" stroke-width="0.08" text-anchor="end">0.0</text>
<line x1="285.20" y1="260.4" x2="285.20" y2="261.4" stroke="#cfcfcf" stroke-width="0.5"/>
<text x="285.20" y="266.70" font-size="3.0" fill="#4a4a4a" font-weight="normal" stroke="#4a4a4a" stroke-width="0.08" text-anchor="middle">0</text>
<line x1="305.43" y1="260.4" x2="305.43" y2="261.4" stroke="#cfcfcf" stroke-width="0.5"/>
<text x="305.43" y="266.70" font-size="3.0" fill="#4a4a4a" font-weight="normal" stroke="#4a4a4a" stroke-width="0.08" text-anchor="middle">500</text>
<line x1="325.67" y1="260.4" x2="325.67" y2="261.4" stroke="#cfcfcf" stroke-width="0.5"/>
<text x="325.67" y="266.70" font-size="3.0" fill="#4a4a4a" font-weight="normal" stroke="#4a4a4a" stroke-width="0.08" text-anchor="middle">1000</text>
<line x1="345.90" y1="260.4" x2="345.90" y2="261.4" stroke="#cfcfcf" stroke-width="0.5"/>
<text x="345.90" y="266.70" font-size="3.0" fill="#4a4a4a" font-weight="normal" stroke="#4a4a4a" stroke-width="0.08" text-anchor="middle">1500</text>
<text x="0" y="0" transform="translate(269.90,219.20) rotate(-90)" font-size="5.6" font-weight="bold" fill="#141414" text-anchor="middle" textLength="44.80" lengthAdjust="spacingAndGlyphs">Probability of OS</text>
<line x1="367.4" y1="180" x2="367.4" y2="260" stroke="#cfcfcf" stroke-width="0.6"/>
<line x1="367.4" y1="260" x2="440" y2="260" stroke="#cfcfcf" stroke-width="0.6"/>
<line x1="366.4" y1="183.20" x2="367.4" y2="183.20" stroke="#cfcfcf" stroke-width="0.5"/>
<text x="365.10" y="184.30" font-size="3.0" fill="#4a4a4a" font-weight="normal" stroke="#4a4a4a" stroke-width="0.08" text-anchor="end">1.0</text>
<line x1="366.4" y1="197.86" x2="367.4" y2="197.86" stroke="#cfcfcf" stroke-width="0.5"/>
<text x="365.10" y="198.96" font-size="3.0" fill="#4a4a4a" font-weight="normal" stroke="#4a4a4a" stroke-width="0.08" text-anchor="end">0.8</text>
<line x1="366.4" y1="212.52" x2="367.4" y2="212.52" stroke="#cfcfcf" stroke-width="0.5"/>
<text x="365.10" y="213.62" font-size="3.0" fill="#4a4a4a" font-weight="normal" stroke="#4a4a4a" stroke-width="0.08" text-anchor="end">0.6</text>
<line x1="366.4" y1="227.18" x2="367.4" y2="227.18" stroke="#cfcfcf" stroke-width="0.5"/>
<text x="365.10" y="228.28" font-size="3.0" fill="#4a4a4a" font-weight="normal" stroke="#4a4a4a" stroke-width="0.08" text-anchor="end">0.4</text>
<line x1="366.4" y1="241.84" x2="367.4" y2="241.84" stroke="#cfcfcf" stroke-width="0.5"/>
<text x="365.10" y="242.94" font-size="3.0" fill="#4a4a4a" font-weight="normal" stroke="#4a4a4a" stroke-width="0.08" text-anchor="end">0.2</text>
<line x1="366.4" y1="256.50" x2="367.4" y2="256.50" stroke="#cfcfcf" stroke-width="0.5"/>
<text x="365.10" y="257.60" font-size="3.0" fill="#4a4a4a" font-weight="normal" stroke="#4a4a4a" stroke-width="0.08" text-anchor="end">0.0</text>
<line x1="369.70" y1="260" x2="369.70" y2="261" stroke="#cfcfcf" stroke-width="0.5"/>
<text x="369.70" y="266.70" font-size="3.0" fill="#4a4a4a" font-weight="normal" stroke="#4a4a4a" stroke-width="0.08" text-anchor="middle">0</text>
<line x1="385.02" y1="260" x2="385.02" y2="261" stroke="#cfcfcf" stroke-width="0.5"/>
<text x="385.02" y="266.70" font-size="3.0" fill="#4a4a4a" font-weight="normal" stroke="#4a4a4a" stroke-width="0.08" text-anchor="middle">20</text>
<line x1="400.35" y1="260" x2="400.35" y2="261" stroke="#cfcfcf" stroke-width="0.5"/>
<text x="400.35" y="266.70" font-size="3.0" fill="#4a4a4a" font-weight="normal" stroke="#4a4a4a" stroke-width="0.08" text-anchor="middle">40</text>
<line x1="415.68" y1="260" x2="415.68" y2="261" stroke="#cfcfcf" stroke-width="0.5"/>
<text x="415.68" y="266.70" font-size="3.0" fill="#4a4a4a" font-weight="normal" stroke="#4a4a4a" stroke-width="0.08" text-anchor="middle">60</text>
<line x1="431.00" y1="260" x2="431.00" y2="261" stroke="#cfcfcf" stroke-width="0.5"/>
<text x="431.00" y="266.70" font-size="3.0" fill="#4a4a4a" font-weight="normal" stroke="#4a4a4a" stroke-width="0.08" text-anchor="middle">80</text>
<text x="0" y="0" transform="translate(356.70,219.20) rotate(-90)" font-size="5.6" font-weight="bold" fill="#141414" text-anchor="middle" textLength="44.80" lengthAdjust="spacingAndGlyphs">Probability of OS</text>
<line x1="462.6" y1="180" x2="462.6" y2="262.4" stroke="#cfcfcf" stroke-width="0.6"/>
<line x1="462.6" y1="262.4" x2="545" y2="262.4" stroke="#cfcfcf" stroke-width="0.6"/>
<line x1="461.6" y1="183.20" x2="462.6" y2="183.20" stroke="#cfcfcf" stroke-width="0.5"/>
<text x="460.30" y="184.30" font-size="3.0" fill="#4a4a4a" font-weight="normal" stroke="#4a4a4a" stroke-width="0.08" text-anchor="end">1.0</text>
<line x1="461.6" y1="198.16" x2="462.6" y2="198.16" stroke="#cfcfcf" stroke-width="0.5"/>
<text x="460.30" y="199.26" font-size="3.0" fill="#4a4a4a" font-weight="normal" stroke="#4a4a4a" stroke-width="0.08" text-anchor="end">0.8</text>
<line x1="461.6" y1="213.12" x2="462.6" y2="213.12" stroke="#cfcfcf" stroke-width="0.5"/>
<text x="460.30" y="214.22" font-size="3.0" fill="#4a4a4a" font-weight="normal" stroke="#4a4a4a" stroke-width="0.08" text-anchor="end">0.6</text>
<line x1="461.6" y1="228.08" x2="462.6" y2="228.08" stroke="#cfcfcf" stroke-width="0.5"/>
<text x="460.30" y="229.18" font-size="3.0" fill="#4a4a4a" font-weight="normal" stroke="#4a4a4a" stroke-width="0.08" text-anchor="end">0.4</text>
<line x1="461.6" y1="243.04" x2="462.6" y2="243.04" stroke="#cfcfcf" stroke-width="0.5"/>
<text x="460.30" y="244.14" font-size="3.0" fill="#4a4a4a" font-weight="normal" stroke="#4a4a4a" stroke-width="0.08" text-anchor="end">0.2</text>
<line x1="461.6" y1="258.00" x2="462.6" y2="258.00" stroke="#cfcfcf" stroke-width="0.5"/>
<text x="460.30" y="259.10" font-size="3.0" fill="#4a4a4a" font-weight="normal" stroke="#4a4a4a" stroke-width="0.08" text-anchor="end">0.0</text>
<line x1="466.30" y1="262.4" x2="466.30" y2="263.4" stroke="#cfcfcf" stroke-width="0.5"/>
<text x="466.30" y="267.60" font-size="3.0" fill="#4a4a4a" font-weight="normal" stroke="#4a4a4a" stroke-width="0.08" text-anchor="middle">0</text>
<line x1="485.03" y1="262.4" x2="485.03" y2="263.4" stroke="#cfcfcf" stroke-width="0.5"/>
<text x="485.03" y="267.60" font-size="3.0" fill="#4a4a4a" font-weight="normal" stroke="#4a4a4a" stroke-width="0.08" text-anchor="middle">500</text>
<line x1="503.75" y1="262.4" x2="503.75" y2="263.4" stroke="#cfcfcf" stroke-width="0.5"/>
<text x="503.75" y="267.60" font-size="3.0" fill="#4a4a4a" font-weight="normal" stroke="#4a4a4a" stroke-width="0.08" text-anchor="middle">1000</text>
<line x1="522.48" y1="262.4" x2="522.48" y2="263.4" stroke="#cfcfcf" stroke-width="0.5"/>
<text x="522.48" y="267.60" font-size="3.0" fill="#4a4a4a" font-weight="normal" stroke="#4a4a4a" stroke-width="0.08" text-anchor="middle">1500</text>
<line x1="541.20" y1="262.4" x2="541.20" y2="263.4" stroke="#cfcfcf" stroke-width="0.5"/>
<text x="541.20" y="267.60" font-size="3.0" fill="#4a4a4a" font-weight="normal" stroke="#4a4a4a" stroke-width="0.08" text-anchor="middle">2000</text>
<text x="0" y="0" transform="translate(453.70,219.20) rotate(-90)" font-size="5.6" font-weight="bold" fill="#141414" text-anchor="middle" textLength="44.80" lengthAdjust="spacingAndGlyphs">Probability of OS</text>
<path d="M20.4 183.4 H21.3 V185.3 H22.3 V186.8 H23.3 V188.2 H24.2 V190.2 H25.2 V192.1 H27.7 V192.6 H29.6 V195.5 H30.1 V198.4 H31.1 V201.4 H32 V202.3 H35 V207.9 H36.9 V211.3 H37.9 V212.3 H42.8 V214.3 H47.1 V217.2 H68.4" fill="none" stroke="#3d5cb3" stroke-width="1.05" stroke-linejoin="miter" stroke-linecap="butt"/>
<path d="M20.4 183.4 H20.8 V196 H30.6 V198.9 H31.1 V204.3 H33.5 V219.6 H36.9 V227.2 H44.8 V242.3 H62" fill="none" stroke="#f07a35" stroke-width="1.05" stroke-linejoin="miter" stroke-linecap="butt"/>
<path d="M105.4 183.4 H124.3 V199.6 H162" fill="none" stroke="#3d5cb3" stroke-width="1.05" stroke-linejoin="miter" stroke-linecap="butt"/>
<path d="M105.4 183.4 H106.3 V189.7 H106.8 V195.5 H107.6 V201.4 H109.7 V208 H126 V216.7 H128.5 V224.8 H133.5 V232.8 H136.9 V249.3 H150.4" fill="none" stroke="#3db54a" stroke-width="1.05" stroke-linejoin="miter" stroke-linecap="butt"/>
<path d="M194.4 183.4 H197.3 V185 H198 V186.8 H198.8 V188.2 H199.7 V189.7 H200.7 V190.2 H202.2 V193.1 H203.6 V195.5 H205.1 V197.5 H206.1 V198.9 H207 V199.9 H208 V201.9 H209 V204.3 H210.4 V206.2 H211.9 V206.7 H214.3 V208.9 H217.3 V209.4 H219.2 V211.8 H222.1 V212.2 H244.2" fill="none" stroke="#3d5cb3" stroke-width="1.05" stroke-linejoin="miter" stroke-linecap="butt"/>
<path d="M194.4 183.4 H194.4 V196.5 H205.6 V203.8 H208 V219.6 H210.9 V227 H220.3 V242.3 H237.6" fill="none" stroke="#f07a35" stroke-width="1.05" stroke-linejoin="miter" stroke-linecap="butt"/>
<path d="M194.4 183.4 H195.5 V196.5 H196.5 V208.4 H204.6 V224.5 H210.2 V257.7" fill="none" stroke="#3db54a" stroke-width="1.05" stroke-linejoin="miter" stroke-linecap="butt"/>
<path d="M285.4 181.6 H286.4 V182.6 H290.3 V184.3 H297.6 V187.3 H300.5 V188.7 H302.4 V191.6 H303.9 V195.5 H305.4 V197.5 H306.8 V201.4 H307.8 V204.8 H308.3 V205.8 H310.8 V206.9 H318.1 V209.2 H321.2 V212.2 H348.9" fill="none" stroke="#3d5cb3" stroke-width="1.05" stroke-linejoin="miter" stroke-linecap="butt"/>
<path d="M285.4 181.6 H297.6 V188.7 H298.1 V198.4 H299.2 V199 H300 V214.3 H314.7 V222.8 H331.8" fill="none" stroke="#ff4f6c" stroke-width="1.05" stroke-linejoin="miter" stroke-linecap="butt"/>
<path d="M370.6 183.6 H372.4 V187.3 H403.9 V194 H408.2 V203.3 H411.7 V211.6 H426.5" fill="none" stroke="#3d5cb3" stroke-width="1.05" stroke-linejoin="miter" stroke-linecap="butt"/>
<path d="M370.6 183.6 H392.8 V205.2 H394.1 V211.8 H396.9 V219.8 H399.2 V228.9 H407.7 V238.5 H437.8" fill="none" stroke="#3db54a" stroke-width="1.05" stroke-linejoin="miter" stroke-linecap="butt"/>
<path d="M467 183.4 H470.7 V185.8 H482.8 V190 H485 V194 H486.5 V196.8 H488 V199.5 H490.1 V202.8 H493.8 V206.5 H497.4 V209 H499.9 V210.9 H525.4" fill="none" stroke="#3d5cb3" stroke-width="1.05" stroke-linejoin="miter" stroke-linecap="butt"/>
<path d="M478.7 183.4 H478.7 V190.7 H479.2 V204 H480.4 V213.8 H493.8 V224 H516.2" fill="none" stroke="#ff4f6c" stroke-width="1.05" stroke-linejoin="miter" stroke-linecap="butt"/>
<path d="M467 183.4 H478.7 V215 H485.3 V235.2 H501.1" fill="none" stroke="#3db54a" stroke-width="1.05" stroke-linejoin="miter" stroke-linecap="butt"/>
<text x="31.80" y="186.90" font-size="4.2" fill="#141414" font-weight="bold" stroke="#141414" stroke-width="0.1" textLength="12.00" lengthAdjust="spacingAndGlyphs">Group</text>
<text x="48.20" y="186.90" font-size="4.2" fill="#141414" font-weight="bold" stroke="#141414" stroke-width="0.1" textLength="10.30" lengthAdjust="spacingAndGlyphs">Mean</text>
<text x="60.70" y="186.90" font-size="4.2" fill="#141414" font-weight="bold" stroke="#141414" stroke-width="0.1" textLength="21.30" lengthAdjust="spacingAndGlyphs">OS (95% CI)</text>
<text x="36.20" y="191.70" font-size="4.2" fill="#2a2af0" font-weight="bold" stroke="#2a2af0" stroke-width="0.1" textLength="45.80" lengthAdjust="spacingAndGlyphs">0: 1022 (848 – 1197) days</text>
<text x="36.20" y="196.00" font-size="4.2" fill="#f07a35" font-weight="bold" stroke="#f07a35" stroke-width="0.1" textLength="42.50" lengthAdjust="spacingAndGlyphs">1: 625 (340 – 910) days</text>
<text x="126.90" y="186.00" font-size="4.2" fill="#141414" font-weight="bold" stroke="#141414" stroke-width="0.1" textLength="11.50" lengthAdjust="spacingAndGlyphs">Group</text>
<text x="140.50" y="186.00" font-size="4.2" fill="#141414" font-weight="bold" stroke="#141414" stroke-width="0.1" textLength="9.90" lengthAdjust="spacingAndGlyphs">Mean</text>
<text x="153.10" y="186.00" font-size="4.2" fill="#141414" font-weight="bold" stroke="#141414" stroke-width="0.1" textLength="21.80" lengthAdjust="spacingAndGlyphs">OS (95% CI)</text>
<text x="130.70" y="190.60" font-size="4.2" fill="#2a2af0" font-weight="bold" stroke="#2a2af0" stroke-width="0.1" textLength="42.00" lengthAdjust="spacingAndGlyphs">0: 754 (598 – 910) days</text>
<text x="130.70" y="195.00" font-size="4.2" fill="#1fae45" font-weight="bold" stroke="#1fae45" stroke-width="0.1" textLength="42.50" lengthAdjust="spacingAndGlyphs">1: 320 (198 – 658) days</text>
<text x="207.80" y="183.20" font-size="4.2" fill="#141414" font-weight="bold" stroke="#141414" stroke-width="0.1" textLength="12.00" lengthAdjust="spacingAndGlyphs">Group</text>
<text x="221.40" y="183.20" font-size="4.2" fill="#141414" font-weight="bold" stroke="#141414" stroke-width="0.1" textLength="33.90" lengthAdjust="spacingAndGlyphs">Mean OS (95% CI)</text>
<text x="212.70" y="187.60" font-size="4.2" fill="#2a2af0" font-weight="bold" stroke="#2a2af0" stroke-width="0.1" textLength="45.30" lengthAdjust="spacingAndGlyphs">0: 1109 (930 – 1285) days</text>
<text x="212.70" y="192.50" font-size="4.2" fill="#f07a35" font-weight="bold" stroke="#f07a35" stroke-width="0.1" textLength="41.50" lengthAdjust="spacingAndGlyphs">1: 625 (340 – 910) days</text>
<text x="212.70" y="197.00" font-size="4.2" fill="#1fae45" font-weight="bold" stroke="#1fae45" stroke-width="0.1" textLength="40.30" lengthAdjust="spacingAndGlyphs">2: 314 (140 – 489) days</text>
<text x="282.90" y="247.50" font-size="4.2" fill="#141414" font-weight="bold" stroke="#141414" stroke-width="0.1" textLength="12.00" lengthAdjust="spacingAndGlyphs">Group</text>
<text x="297.10" y="247.50" font-size="4.2" fill="#141414" font-weight="bold" stroke="#141414" stroke-width="0.1" textLength="33.20" lengthAdjust="spacingAndGlyphs">Mean OS (95% CI)</text>
<text x="288.40" y="252.20" font-size="4.2" fill="#2a2af0" font-weight="bold" stroke="#2a2af0" stroke-width="0.1" textLength="46.90" lengthAdjust="spacingAndGlyphs">0: 1119 (959  – 1279) days</text>
<text x="288.40" y="256.50" font-size="4.2" fill="#ff2a48" font-weight="bold" stroke="#ff2a48" stroke-width="0.1" textLength="40.90" lengthAdjust="spacingAndGlyphs">1: 732 (490 – 975) days</text>
<text x="367.30" y="247.50" font-size="4.2" fill="#141414" font-weight="bold" stroke="#141414" stroke-width="0.1" textLength="12.00" lengthAdjust="spacingAndGlyphs">Group</text>
<text x="380.90" y="247.50" font-size="4.2" fill="#141414" font-weight="bold" stroke="#141414" stroke-width="0.1" textLength="34.40" lengthAdjust="spacingAndGlyphs">Mean OS (95% CI)</text>
<text x="372.20" y="252.20" font-size="4.2" fill="#2a2af0" font-weight="bold" stroke="#2a2af0" stroke-width="0.1" textLength="42.00" lengthAdjust="spacingAndGlyphs">0: 621 (527 – 715) days</text>
<text x="372.20" y="256.50" font-size="4.2" fill="#1fae45" font-weight="bold" stroke="#1fae45" stroke-width="0.1" textLength="42.50" lengthAdjust="spacingAndGlyphs">1: 490 (337 – 643) days</text>
<text x="463.30" y="246.30" font-size="4.2" fill="#141414" font-weight="bold" stroke="#141414" stroke-width="0.1" textLength="11.20" lengthAdjust="spacingAndGlyphs">Group</text>
<text x="478.70" y="246.30" font-size="4.2" fill="#141414" font-weight="bold" stroke="#141414" stroke-width="0.1" textLength="33.10" lengthAdjust="spacingAndGlyphs">Mean OS (95% CI)</text>
<text x="466.90" y="251.00" font-size="4.2" fill="#2a2af0" font-weight="bold" stroke="#2a2af0" stroke-width="0.1" textLength="46.10" lengthAdjust="spacingAndGlyphs">0: 1158 (993 – 1322) days</text>
<text x="466.90" y="255.70" font-size="4.2" fill="#ff2a48" font-weight="bold" stroke="#ff2a48" stroke-width="0.1" textLength="41.90" lengthAdjust="spacingAndGlyphs">1: 732 (490 – 975) days</text>
<text x="466.90" y="260.40" font-size="4.2" fill="#1fae45" font-weight="bold" stroke="#1fae45" stroke-width="0.1" textLength="41.90" lengthAdjust="spacingAndGlyphs">2: 535 (307 – 762) days</text>
<text x="49.90" y="224.40" font-size="6.0" fill="#2a2af0" font-weight="bold" stroke="#2a2af0" stroke-width="0.3" textLength="27.90" lengthAdjust="spacingAndGlyphs">0: &lt; 2 CTC</text>
<text x="78.00" y="225.60" font-size="3.0" fill="#2a2af0" font-weight="bold" stroke="#2a2af0" stroke-width="0.15" textLength="2.00" lengthAdjust="spacingAndGlyphs">E</text>
<text x="44.00" y="251.00" font-size="6.0" fill="#f07a35" font-weight="bold" stroke="#f07a35" stroke-width="0.3" textLength="28.00" lengthAdjust="spacingAndGlyphs">1: ≥ 2 CTC</text>
<text x="72.20" y="252.20" font-size="3.0" fill="#f07a35" font-weight="bold" stroke="#f07a35" stroke-width="0.15" textLength="2.00" lengthAdjust="spacingAndGlyphs">E</text>
<text x="134.90" y="205.00" font-size="6.0" fill="#2a2af0" font-weight="bold" stroke="#2a2af0" stroke-width="0.3" textLength="28.60" lengthAdjust="spacingAndGlyphs">0: &lt; 2 CTC</text>
<text x="163.70" y="206.20" font-size="3.0" fill="#2a2af0" font-weight="bold" stroke="#2a2af0" stroke-width="0.15" textLength="6.30" lengthAdjust="spacingAndGlyphs">E+M</text>
<text x="140.00" y="257.00" font-size="6.0" fill="#1fae45" font-weight="bold" stroke="#1fae45" stroke-width="0.3" textLength="27.30" lengthAdjust="spacingAndGlyphs">1: ≥ 2 CTC</text>
<text x="167.50" y="258.20" font-size="3.0" fill="#1fae45" font-weight="bold" stroke="#1fae45" stroke-width="0.15" textLength="6.30" lengthAdjust="spacingAndGlyphs">E+M</text>
<text x="230.60" y="219.80" font-size="6.0" fill="#2a2af0" font-weight="bold" stroke="#2a2af0" stroke-width="0.3" textLength="25.00" lengthAdjust="spacingAndGlyphs">0: &lt; 2 CTC</text>
<text x="255.80" y="221.00" font-size="3.0" fill="#2a2af0" font-weight="bold" stroke="#2a2af0" stroke-width="0.15" textLength="2.00" lengthAdjust="spacingAndGlyphs">E</text>
<text x="232.50" y="236.80" font-size="6.0" fill="#f07a35" font-weight="bold" stroke="#f07a35" stroke-width="0.3" textLength="24.30" lengthAdjust="spacingAndGlyphs">1: ≥ 2 CTC</text>
<text x="257.00" y="238.00" font-size="3.0" fill="#f07a35" font-weight="bold" stroke="#f07a35" stroke-width="0.15" textLength="2.00" lengthAdjust="spacingAndGlyphs">E</text>
<text x="214.00" y="252.80" font-size="6.0" fill="#1fae45" font-weight="bold" stroke="#1fae45" stroke-width="0.3" textLength="26.50" lengthAdjust="spacingAndGlyphs">2: ≥ 2 CTC</text>
<text x="240.70" y="254.00" font-size="3.0" fill="#1fae45" font-weight="bold" stroke="#1fae45" stroke-width="0.15" textLength="6.30" lengthAdjust="spacingAndGlyphs">E+M</text>
<text x="312.80" y="206.10" font-size="6.0" fill="#2a2af0" font-weight="bold" stroke="#2a2af0" stroke-width="0.3" textLength="26.70" lengthAdjust="spacingAndGlyphs">0: &lt; 3 CTC</text>
<text x="339.70" y="207.30" font-size="3.0" fill="#2a2af0" font-weight="bold" stroke="#2a2af0" stroke-width="0.15" textLength="6.30" lengthAdjust="spacingAndGlyphs">E+M</text>
<text x="309.50" y="232.70" font-size="6.0" fill="#ff2a48" font-weight="bold" stroke="#ff2a48" stroke-width="0.3" textLength="25.60" lengthAdjust="spacingAndGlyphs">1: ≥ 3 CTC</text>
<text x="335.30" y="233.90" font-size="3.0" fill="#ff2a48" font-weight="bold" stroke="#ff2a48" stroke-width="0.15" textLength="6.30" lengthAdjust="spacingAndGlyphs">E+M</text>
<text x="400.90" y="220.60" font-size="6.0" fill="#2a2af0" font-weight="bold" stroke="#2a2af0" stroke-width="0.3" textLength="27.50" lengthAdjust="spacingAndGlyphs">0: &lt; 3 CTC</text>
<text x="428.60" y="221.80" font-size="3.0" fill="#2a2af0" font-weight="bold" stroke="#2a2af0" stroke-width="0.15" textLength="6.30" lengthAdjust="spacingAndGlyphs">E+M</text>
<text x="408.60" y="236.20" font-size="6.0" fill="#1fae45" font-weight="bold" stroke="#1fae45" stroke-width="0.3" textLength="24.90" lengthAdjust="spacingAndGlyphs">1: ≥ 3 CTC</text>
<text x="433.70" y="237.40" font-size="3.0" fill="#1fae45" font-weight="bold" stroke="#1fae45" stroke-width="0.15" textLength="6.30" lengthAdjust="spacingAndGlyphs">E+M</text>
<text x="512.80" y="209.30" font-size="6.0" fill="#2a2af0" font-weight="bold" stroke="#2a2af0" stroke-width="0.3" textLength="22.60" lengthAdjust="spacingAndGlyphs">0: &lt; 3 CTC</text>
<text x="535.60" y="210.50" font-size="3.0" fill="#2a2af0" font-weight="bold" stroke="#2a2af0" stroke-width="0.15" textLength="2.00" lengthAdjust="spacingAndGlyphs">E</text>
<text x="512.80" y="226.20" font-size="6.0" fill="#ff2a48" font-weight="bold" stroke="#ff2a48" stroke-width="0.3" textLength="21.40" lengthAdjust="spacingAndGlyphs">1: ≥ 3 CTC</text>
<text x="534.40" y="227.40" font-size="3.0" fill="#ff2a48" font-weight="bold" stroke="#ff2a48" stroke-width="0.15" textLength="2.00" lengthAdjust="spacingAndGlyphs">E</text>
<text x="503.00" y="238.00" font-size="6.0" fill="#1fae45" font-weight="bold" stroke="#1fae45" stroke-width="0.3" textLength="25.50" lengthAdjust="spacingAndGlyphs">2: ≥ 3 CTC</text>
<text x="528.70" y="239.20" font-size="3.0" fill="#1fae45" font-weight="bold" stroke="#1fae45" stroke-width="0.15" textLength="6.30" lengthAdjust="spacingAndGlyphs">E+M</text>
<text x="26.92" y="283.00" font-size="4.1" fill="#141414" font-weight="bold" stroke="#141414" stroke-width="0.09" text-anchor="middle">CTC1</text>
<text x="40.76" y="283.00" font-size="4.1" fill="#141414" font-weight="bold" stroke="#141414" stroke-width="0.09" text-anchor="middle">Total</text>
<text x="52.57" y="283.00" font-size="4.1" fill="#141414" font-weight="bold" stroke="#141414" stroke-width="0.09" text-anchor="middle">Event</text>
<text x="67.20" y="283.00" font-size="4.1" fill="#141414" font-weight="bold" stroke="#141414" stroke-width="0.09" text-anchor="middle">Censored</text>
<text x="80.42" y="283.00" font-size="4.1" fill="#141414" font-weight="bold" stroke="#141414" stroke-width="0.09" text-anchor="middle">%</text>
<line x1="22.17" y1="283.70" x2="31.67" y2="283.70" stroke="#141414" stroke-width="0.35"/>
<text x="24.83" y="287.60" font-size="4.1" fill="#2a2af0" font-weight="bold" stroke="#2a2af0" stroke-width="0.09" text-anchor="middle">0</text>
<text x="40.08" y="287.60" font-size="4.1" fill="#2a2af0" font-weight="bold" stroke="#2a2af0" stroke-width="0.09" text-anchor="middle">49</text>
<text x="53.00" y="287.60" font-size="4.1" fill="#2a2af0" font-weight="bold" stroke="#2a2af0" stroke-width="0.09" text-anchor="middle">20</text>
<text x="65.79" y="287.60" font-size="4.1" fill="#2a2af0" font-weight="bold" stroke="#2a2af0" stroke-width="0.09" text-anchor="middle">29</text>
<text x="79.01" y="287.60" font-size="4.1" fill="#2a2af0" font-weight="bold" stroke="#2a2af0" stroke-width="0.09" text-anchor="middle">59.2</text>
<text x="24.83" y="292.20" font-size="4.1" fill="#f07a35" font-weight="bold" stroke="#f07a35" stroke-width="0.09" text-anchor="middle">1</text>
<text x="40.08" y="292.20" font-size="4.1" fill="#f07a35" font-weight="bold" stroke="#f07a35" stroke-width="0.09" text-anchor="middle">11</text>
<text x="53.00" y="292.20" font-size="4.1" fill="#f07a35" font-weight="bold" stroke="#f07a35" stroke-width="0.09" text-anchor="middle">7</text>
<text x="65.79" y="292.20" font-size="4.1" fill="#f07a35" font-weight="bold" stroke="#f07a35" stroke-width="0.09" text-anchor="middle">4</text>
<text x="79.01" y="292.20" font-size="4.1" fill="#f07a35" font-weight="bold" stroke="#f07a35" stroke-width="0.09" text-anchor="middle">36.4</text>
<text x="22.00" y="296.80" font-size="4.1" fill="#141414" font-weight="bold" stroke="#141414" stroke-width="0.09">Overall</text>
<text x="40.08" y="296.80" font-size="4.1" fill="#141414" font-weight="bold" stroke="#141414" stroke-width="0.09" text-anchor="middle">60</text>
<text x="53.00" y="296.80" font-size="4.1" fill="#141414" font-weight="bold" stroke="#141414" stroke-width="0.09" text-anchor="middle">27</text>
<text x="65.79" y="296.80" font-size="4.1" fill="#141414" font-weight="bold" stroke="#141414" stroke-width="0.09" text-anchor="middle">33</text>
<text x="79.01" y="296.80" font-size="4.1" fill="#141414" font-weight="bold" stroke="#141414" stroke-width="0.09" text-anchor="middle">55.0</text>
<text x="110.78" y="283.50" font-size="4.1" fill="#141414" font-weight="bold" stroke="#141414" stroke-width="0.09" text-anchor="middle">CTC1</text>
<text x="124.77" y="283.50" font-size="4.1" fill="#141414" font-weight="bold" stroke="#141414" stroke-width="0.09" text-anchor="middle">Total</text>
<text x="136.71" y="283.50" font-size="4.1" fill="#141414" font-weight="bold" stroke="#141414" stroke-width="0.09" text-anchor="middle">Event</text>
<text x="151.52" y="283.50" font-size="4.1" fill="#141414" font-weight="bold" stroke="#141414" stroke-width="0.09" text-anchor="middle">Censored</text>
<text x="164.89" y="283.50" font-size="4.1" fill="#141414" font-weight="bold" stroke="#141414" stroke-width="0.09" text-anchor="middle">%</text>
<line x1="106.03" y1="284.20" x2="115.53" y2="284.20" stroke="#141414" stroke-width="0.35"/>
<text x="108.66" y="287.90" font-size="4.1" fill="#2a2af0" font-weight="bold" stroke="#2a2af0" stroke-width="0.09" text-anchor="middle">0</text>
<text x="124.09" y="287.90" font-size="4.1" fill="#2a2af0" font-weight="bold" stroke="#2a2af0" stroke-width="0.09" text-anchor="middle">10</text>
<text x="137.15" y="287.90" font-size="4.1" fill="#2a2af0" font-weight="bold" stroke="#2a2af0" stroke-width="0.09" text-anchor="middle">2</text>
<text x="150.09" y="287.90" font-size="4.1" fill="#2a2af0" font-weight="bold" stroke="#2a2af0" stroke-width="0.09" text-anchor="middle">8</text>
<text x="163.46" y="287.90" font-size="4.1" fill="#2a2af0" font-weight="bold" stroke="#2a2af0" stroke-width="0.09" text-anchor="middle">80.0</text>
<text x="108.66" y="292.30" font-size="4.1" fill="#1fae45" font-weight="bold" stroke="#1fae45" stroke-width="0.09" text-anchor="middle">1</text>
<text x="124.09" y="292.30" font-size="4.1" fill="#1fae45" font-weight="bold" stroke="#1fae45" stroke-width="0.09" text-anchor="middle">12</text>
<text x="137.15" y="292.30" font-size="4.1" fill="#1fae45" font-weight="bold" stroke="#1fae45" stroke-width="0.09" text-anchor="middle">9</text>
<text x="150.09" y="292.30" font-size="4.1" fill="#1fae45" font-weight="bold" stroke="#1fae45" stroke-width="0.09" text-anchor="middle">3</text>
<text x="163.46" y="292.30" font-size="4.1" fill="#1fae45" font-weight="bold" stroke="#1fae45" stroke-width="0.09" text-anchor="middle">25.0</text>
<text x="105.80" y="296.70" font-size="4.1" fill="#141414" font-weight="bold" stroke="#141414" stroke-width="0.09">Overall</text>
<text x="124.09" y="296.70" font-size="4.1" fill="#141414" font-weight="bold" stroke="#141414" stroke-width="0.09" text-anchor="middle">22</text>
<text x="137.15" y="296.70" font-size="4.1" fill="#141414" font-weight="bold" stroke="#141414" stroke-width="0.09" text-anchor="middle">11</text>
<text x="150.09" y="296.70" font-size="4.1" fill="#141414" font-weight="bold" stroke="#141414" stroke-width="0.09" text-anchor="middle">22</text>
<text x="163.46" y="296.70" font-size="4.1" fill="#141414" font-weight="bold" stroke="#141414" stroke-width="0.09" text-anchor="middle">50.0</text>
<text x="199.09" y="281.20" font-size="4.1" fill="#141414" font-weight="bold" stroke="#141414" stroke-width="0.09" text-anchor="middle">CTC1</text>
<text x="213.69" y="281.20" font-size="4.1" fill="#141414" font-weight="bold" stroke="#141414" stroke-width="0.09" text-anchor="middle">Total</text>
<text x="226.16" y="281.20" font-size="4.1" fill="#141414" font-weight="bold" stroke="#141414" stroke-width="0.09" text-anchor="middle">Event</text>
<text x="241.60" y="281.20" font-size="4.1" fill="#141414" font-weight="bold" stroke="#141414" stroke-width="0.09" text-anchor="middle">Censored</text>
<text x="255.56" y="281.20" font-size="4.1" fill="#141414" font-weight="bold" stroke="#141414" stroke-width="0.09" text-anchor="middle">%</text>
<line x1="194.34" y1="281.90" x2="203.84" y2="281.90" stroke="#141414" stroke-width="0.35"/>
<text x="196.89" y="285.75" font-size="4.1" fill="#2a2af0" font-weight="bold" stroke="#2a2af0" stroke-width="0.09" text-anchor="middle">0</text>
<text x="212.98" y="285.75" font-size="4.1" fill="#2a2af0" font-weight="bold" stroke="#2a2af0" stroke-width="0.09" text-anchor="middle">43</text>
<text x="226.61" y="285.75" font-size="4.1" fill="#2a2af0" font-weight="bold" stroke="#2a2af0" stroke-width="0.09" text-anchor="middle">15</text>
<text x="240.11" y="285.75" font-size="4.1" fill="#2a2af0" font-weight="bold" stroke="#2a2af0" stroke-width="0.09" text-anchor="middle">28</text>
<text x="254.06" y="285.75" font-size="4.1" fill="#2a2af0" font-weight="bold" stroke="#2a2af0" stroke-width="0.09" text-anchor="middle">65.1</text>
<text x="196.89" y="290.30" font-size="4.1" fill="#f07a35" font-weight="bold" stroke="#f07a35" stroke-width="0.09" text-anchor="middle">1</text>
<text x="212.98" y="290.30" font-size="4.1" fill="#f07a35" font-weight="bold" stroke="#f07a35" stroke-width="0.09" text-anchor="middle">11</text>
<text x="226.61" y="290.30" font-size="4.1" fill="#f07a35" font-weight="bold" stroke="#f07a35" stroke-width="0.09" text-anchor="middle">7</text>
<text x="240.11" y="290.30" font-size="4.1" fill="#f07a35" font-weight="bold" stroke="#f07a35" stroke-width="0.09" text-anchor="middle">4</text>
<text x="254.06" y="290.30" font-size="4.1" fill="#f07a35" font-weight="bold" stroke="#f07a35" stroke-width="0.09" text-anchor="middle">36.4</text>
<text x="196.89" y="294.85" font-size="4.1" fill="#1fae45" font-weight="bold" stroke="#1fae45" stroke-width="0.09" text-anchor="middle">2</text>
<text x="212.98" y="294.85" font-size="4.1" fill="#1fae45" font-weight="bold" stroke="#1fae45" stroke-width="0.09" text-anchor="middle">6</text>
<text x="226.61" y="294.85" font-size="4.1" fill="#1fae45" font-weight="bold" stroke="#1fae45" stroke-width="0.09" text-anchor="middle">5</text>
<text x="240.11" y="294.85" font-size="4.1" fill="#1fae45" font-weight="bold" stroke="#1fae45" stroke-width="0.09" text-anchor="middle">1</text>
<text x="254.06" y="294.85" font-size="4.1" fill="#1fae45" font-weight="bold" stroke="#1fae45" stroke-width="0.09" text-anchor="middle">16.7</text>
<text x="193.90" y="299.40" font-size="4.1" fill="#141414" font-weight="bold" stroke="#141414" stroke-width="0.09">Overall</text>
<text x="212.98" y="299.40" font-size="4.1" fill="#141414" font-weight="bold" stroke="#141414" stroke-width="0.09" text-anchor="middle">60</text>
<text x="226.61" y="299.40" font-size="4.1" fill="#141414" font-weight="bold" stroke="#141414" stroke-width="0.09" text-anchor="middle">27</text>
<text x="240.11" y="299.40" font-size="4.1" fill="#141414" font-weight="bold" stroke="#141414" stroke-width="0.09" text-anchor="middle">33</text>
<text x="254.06" y="299.40" font-size="4.1" fill="#141414" font-weight="bold" stroke="#141414" stroke-width="0.09" text-anchor="middle">55.0</text>
<text x="292.39" y="283.00" font-size="4.1" fill="#141414" font-weight="bold" stroke="#141414" stroke-width="0.09" text-anchor="middle">CTC4</text>
<text x="306.43" y="283.00" font-size="4.1" fill="#141414" font-weight="bold" stroke="#141414" stroke-width="0.09" text-anchor="middle">Total</text>
<text x="318.41" y="283.00" font-size="4.1" fill="#141414" font-weight="bold" stroke="#141414" stroke-width="0.09" text-anchor="middle">Event</text>
<text x="333.26" y="283.00" font-size="4.1" fill="#141414" font-weight="bold" stroke="#141414" stroke-width="0.09" text-anchor="middle">Censored</text>
<text x="346.68" y="283.00" font-size="4.1" fill="#141414" font-weight="bold" stroke="#141414" stroke-width="0.09" text-anchor="middle">%</text>
<line x1="287.64" y1="283.70" x2="297.14" y2="283.70" stroke="#141414" stroke-width="0.35"/>
<text x="290.27" y="287.60" font-size="4.1" fill="#2a2af0" font-weight="bold" stroke="#2a2af0" stroke-width="0.09" text-anchor="middle">0</text>
<text x="305.75" y="287.60" font-size="4.1" fill="#2a2af0" font-weight="bold" stroke="#2a2af0" stroke-width="0.09" text-anchor="middle">54</text>
<text x="318.85" y="287.60" font-size="4.1" fill="#2a2af0" font-weight="bold" stroke="#2a2af0" stroke-width="0.09" text-anchor="middle">17</text>
<text x="331.83" y="287.60" font-size="4.1" fill="#2a2af0" font-weight="bold" stroke="#2a2af0" stroke-width="0.09" text-anchor="middle">37</text>
<text x="345.24" y="287.60" font-size="4.1" fill="#2a2af0" font-weight="bold" stroke="#2a2af0" stroke-width="0.09" text-anchor="middle">68.5</text>
<text x="290.27" y="292.20" font-size="4.1" fill="#ff2a48" font-weight="bold" stroke="#ff2a48" stroke-width="0.09" text-anchor="middle">1</text>
<text x="305.75" y="292.20" font-size="4.1" fill="#ff2a48" font-weight="bold" stroke="#ff2a48" stroke-width="0.09" text-anchor="middle">9</text>
<text x="318.85" y="292.20" font-size="4.1" fill="#ff2a48" font-weight="bold" stroke="#ff2a48" stroke-width="0.09" text-anchor="middle">5</text>
<text x="331.83" y="292.20" font-size="4.1" fill="#ff2a48" font-weight="bold" stroke="#ff2a48" stroke-width="0.09" text-anchor="middle">4</text>
<text x="345.24" y="292.20" font-size="4.1" fill="#ff2a48" font-weight="bold" stroke="#ff2a48" stroke-width="0.09" text-anchor="middle">44.4</text>
<text x="287.40" y="296.80" font-size="4.1" fill="#141414" font-weight="bold" stroke="#141414" stroke-width="0.09">Overall</text>
<text x="305.75" y="296.80" font-size="4.1" fill="#141414" font-weight="bold" stroke="#141414" stroke-width="0.09" text-anchor="middle">63</text>
<text x="318.85" y="296.80" font-size="4.1" fill="#141414" font-weight="bold" stroke="#141414" stroke-width="0.09" text-anchor="middle">22</text>
<text x="331.83" y="296.80" font-size="4.1" fill="#141414" font-weight="bold" stroke="#141414" stroke-width="0.09" text-anchor="middle">41</text>
<text x="345.24" y="296.80" font-size="4.1" fill="#141414" font-weight="bold" stroke="#141414" stroke-width="0.09" text-anchor="middle">65.1</text>
<text x="375.58" y="283.50" font-size="4.1" fill="#141414" font-weight="bold" stroke="#141414" stroke-width="0.09" text-anchor="middle">CTC4</text>
<text x="389.87" y="283.50" font-size="4.1" fill="#141414" font-weight="bold" stroke="#141414" stroke-width="0.09" text-anchor="middle">Total</text>
<text x="402.06" y="283.50" font-size="4.1" fill="#141414" font-weight="bold" stroke="#141414" stroke-width="0.09" text-anchor="middle">Event</text>
<text x="417.17" y="283.50" font-size="4.1" fill="#141414" font-weight="bold" stroke="#141414" stroke-width="0.09" text-anchor="middle">Censored</text>
<text x="430.82" y="283.50" font-size="4.1" fill="#141414" font-weight="bold" stroke="#141414" stroke-width="0.09" text-anchor="middle">%</text>
<line x1="370.83" y1="284.20" x2="380.33" y2="284.20" stroke="#141414" stroke-width="0.35"/>
<text x="373.42" y="287.90" font-size="4.1" fill="#2a2af0" font-weight="bold" stroke="#2a2af0" stroke-width="0.09" text-anchor="middle">0</text>
<text x="389.17" y="287.90" font-size="4.1" fill="#2a2af0" font-weight="bold" stroke="#2a2af0" stroke-width="0.09" text-anchor="middle">20</text>
<text x="402.50" y="287.90" font-size="4.1" fill="#2a2af0" font-weight="bold" stroke="#2a2af0" stroke-width="0.09" text-anchor="middle">4</text>
<text x="415.71" y="287.90" font-size="4.1" fill="#2a2af0" font-weight="bold" stroke="#2a2af0" stroke-width="0.09" text-anchor="middle">16</text>
<text x="429.36" y="287.90" font-size="4.1" fill="#2a2af0" font-weight="bold" stroke="#2a2af0" stroke-width="0.09" text-anchor="middle">80.0</text>
<text x="373.42" y="292.30" font-size="4.1" fill="#1fae45" font-weight="bold" stroke="#1fae45" stroke-width="0.09" text-anchor="middle">1</text>
<text x="389.17" y="292.30" font-size="4.1" fill="#1fae45" font-weight="bold" stroke="#1fae45" stroke-width="0.09" text-anchor="middle">10</text>
<text x="402.50" y="292.30" font-size="4.1" fill="#1fae45" font-weight="bold" stroke="#1fae45" stroke-width="0.09" text-anchor="middle">7</text>
<text x="415.71" y="292.30" font-size="4.1" fill="#1fae45" font-weight="bold" stroke="#1fae45" stroke-width="0.09" text-anchor="middle">3</text>
<text x="429.36" y="292.30" font-size="4.1" fill="#1fae45" font-weight="bold" stroke="#1fae45" stroke-width="0.09" text-anchor="middle">30.0</text>
<text x="370.50" y="296.70" font-size="4.1" fill="#141414" font-weight="bold" stroke="#141414" stroke-width="0.09">Overall</text>
<text x="389.17" y="296.70" font-size="4.1" fill="#141414" font-weight="bold" stroke="#141414" stroke-width="0.09" text-anchor="middle">30</text>
<text x="402.50" y="296.70" font-size="4.1" fill="#141414" font-weight="bold" stroke="#141414" stroke-width="0.09" text-anchor="middle">11</text>
<text x="415.71" y="296.70" font-size="4.1" fill="#141414" font-weight="bold" stroke="#141414" stroke-width="0.09" text-anchor="middle">19</text>
<text x="429.36" y="296.70" font-size="4.1" fill="#141414" font-weight="bold" stroke="#141414" stroke-width="0.09" text-anchor="middle">63.3</text>
<text x="479.58" y="283.40" font-size="4.1" fill="#141414" font-weight="bold" stroke="#141414" stroke-width="0.09" text-anchor="middle">CTC4</text>
<text x="493.87" y="283.40" font-size="4.1" fill="#141414" font-weight="bold" stroke="#141414" stroke-width="0.09" text-anchor="middle">Total</text>
<text x="506.06" y="283.40" font-size="4.1" fill="#141414" font-weight="bold" stroke="#141414" stroke-width="0.09" text-anchor="middle">Event</text>
<text x="521.17" y="283.40" font-size="4.1" fill="#141414" font-weight="bold" stroke="#141414" stroke-width="0.09" text-anchor="middle">Censored</text>
<text x="534.83" y="283.40" font-size="4.1" fill="#141414" font-weight="bold" stroke="#141414" stroke-width="0.09" text-anchor="middle">%</text>
<line x1="474.83" y1="284.10" x2="484.33" y2="284.10" stroke="#141414" stroke-width="0.35"/>
<text x="477.42" y="287.90" font-size="4.1" fill="#2a2af0" font-weight="bold" stroke="#2a2af0" stroke-width="0.09" text-anchor="middle">0</text>
<text x="493.17" y="287.90" font-size="4.1" fill="#2a2af0" font-weight="bold" stroke="#2a2af0" stroke-width="0.09" text-anchor="middle">49</text>
<text x="506.50" y="287.90" font-size="4.1" fill="#2a2af0" font-weight="bold" stroke="#2a2af0" stroke-width="0.09" text-anchor="middle">14</text>
<text x="519.71" y="287.90" font-size="4.1" fill="#2a2af0" font-weight="bold" stroke="#2a2af0" stroke-width="0.09" text-anchor="middle">35</text>
<text x="533.36" y="287.90" font-size="4.1" fill="#2a2af0" font-weight="bold" stroke="#2a2af0" stroke-width="0.09" text-anchor="middle">71.4</text>
<text x="477.42" y="292.40" font-size="4.1" fill="#ff2a48" font-weight="bold" stroke="#ff2a48" stroke-width="0.09" text-anchor="middle">1</text>
<text x="493.17" y="292.40" font-size="4.1" fill="#ff2a48" font-weight="bold" stroke="#ff2a48" stroke-width="0.09" text-anchor="middle">9</text>
<text x="506.50" y="292.40" font-size="4.1" fill="#ff2a48" font-weight="bold" stroke="#ff2a48" stroke-width="0.09" text-anchor="middle">5</text>
<text x="519.71" y="292.40" font-size="4.1" fill="#ff2a48" font-weight="bold" stroke="#ff2a48" stroke-width="0.09" text-anchor="middle">4</text>
<text x="533.36" y="292.40" font-size="4.1" fill="#ff2a48" font-weight="bold" stroke="#ff2a48" stroke-width="0.09" text-anchor="middle">44.4</text>
<text x="477.42" y="296.90" font-size="4.1" fill="#1fae45" font-weight="bold" stroke="#1fae45" stroke-width="0.09" text-anchor="middle">2</text>
<text x="493.17" y="296.90" font-size="4.1" fill="#1fae45" font-weight="bold" stroke="#1fae45" stroke-width="0.09" text-anchor="middle">5</text>
<text x="506.50" y="296.90" font-size="4.1" fill="#1fae45" font-weight="bold" stroke="#1fae45" stroke-width="0.09" text-anchor="middle">3</text>
<text x="519.71" y="296.90" font-size="4.1" fill="#1fae45" font-weight="bold" stroke="#1fae45" stroke-width="0.09" text-anchor="middle">2</text>
<text x="533.36" y="296.90" font-size="4.1" fill="#1fae45" font-weight="bold" stroke="#1fae45" stroke-width="0.09" text-anchor="middle">40.0</text>
<text x="474.50" y="301.40" font-size="4.1" fill="#141414" font-weight="bold" stroke="#141414" stroke-width="0.09">Overall</text>
<text x="493.17" y="301.40" font-size="4.1" fill="#141414" font-weight="bold" stroke="#141414" stroke-width="0.09" text-anchor="middle">63</text>
<text x="506.50" y="301.40" font-size="4.1" fill="#141414" font-weight="bold" stroke="#141414" stroke-width="0.09" text-anchor="middle">22</text>
<text x="519.71" y="301.40" font-size="4.1" fill="#141414" font-weight="bold" stroke="#141414" stroke-width="0.09" text-anchor="middle">41</text>
<text x="533.36" y="301.40" font-size="4.1" fill="#141414" font-weight="bold" stroke="#141414" stroke-width="0.09" text-anchor="middle">66.7</text>
</svg></body></html>
